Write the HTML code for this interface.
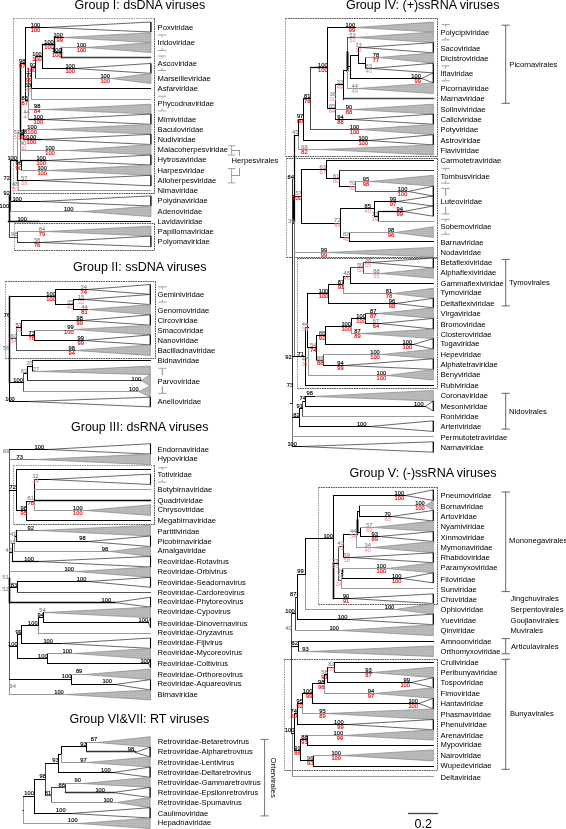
<!DOCTYPE html>
<html lang="en">
<head>
<meta charset="utf-8">
<title>Virus groups phylogeny</title>
<style>
html,body{margin:0;padding:0;background:#fff;}
body{width:566px;height:829px;overflow:hidden;}
svg{display:block;font-family:"Liberation Sans",sans-serif;}
svg text{white-space:pre;}
</style>
</head>
<body>
<svg width="566" height="829" viewBox="0 0 566 829">
<defs><pattern id="st" width="2" height="2" patternUnits="userSpaceOnUse"><rect width="2" height="2" fill="#b4b4b4"/><rect x="0" y="0" width="1" height="1" fill="#c4c4c4"/></pattern></defs>
<rect x="0" y="0" width="566" height="829" fill="#fff"/>
<g id="g1">
<text x="139.9" y="9.2" font-size="12.5" fill="#000" text-anchor="middle">Group I: dsDNA viruses</text>
<line x1="13.5" y1="18.5" x2="154.5" y2="18.5" stroke="#8e8e8e" stroke-width="1" stroke-dasharray="1.4 1.05"/>
<line x1="13.5" y1="193.5" x2="154.5" y2="193.5" stroke="#2a2a2a" stroke-width="0.8" stroke-dasharray="1.7 0.75"/>
<line x1="13.5" y1="18.5" x2="13.5" y2="193.5" stroke="#8e8e8e" stroke-width="1" stroke-dasharray="1.4 1.05"/>
<line x1="154.5" y1="18.5" x2="154.5" y2="193.5" stroke="#2a2a2a" stroke-width="0.8" stroke-dasharray="1.7 0.75"/>
<line x1="14.5" y1="223.5" x2="154.5" y2="223.5" stroke="#2a2a2a" stroke-width="0.8" stroke-dasharray="1.7 0.75"/>
<line x1="14.5" y1="250.5" x2="154.5" y2="250.5" stroke="#2a2a2a" stroke-width="0.8" stroke-dasharray="1.7 0.75"/>
<line x1="14.5" y1="223.5" x2="14.5" y2="250.5" stroke="#8e8e8e" stroke-width="1" stroke-dasharray="1.4 1.05"/>
<line x1="154.5" y1="223.5" x2="154.5" y2="250.5" stroke="#2a2a2a" stroke-width="0.8" stroke-dasharray="1.7 0.75"/>
<polygon points="46.7,27.5 150.9,22 150.9,32" fill="#fff" stroke="#000" stroke-width="0.6" stroke-linejoin="miter"/>
<line x1="150.9" y1="22" x2="150.9" y2="32" stroke="#000" stroke-width="1.1"/>
<polygon points="63.3,37.5 150.9,32.7 150.9,42.6" fill="url(#st)" stroke="#858585" stroke-width="0.7"/>
<polygon points="86.6,47.5 150.9,42.6 150.9,52.6" fill="url(#st)" stroke="#858585" stroke-width="0.7"/>
<polygon points="75,68.5 150.9,63.4 150.9,73.4" fill="#fff" stroke="#000" stroke-width="0.6" stroke-linejoin="miter"/>
<line x1="150.9" y1="63.4" x2="150.9" y2="73.4" stroke="#000" stroke-width="1.1"/>
<polygon points="111,78.5 150.9,73.4 150.9,83.5" fill="url(#st)" stroke="#858585" stroke-width="0.7"/>
<polygon points="45.3,109.5 150.9,104.2 150.9,114.1" fill="url(#st)" stroke="#858585" stroke-width="0.7"/>
<polygon points="44,119.5 150.9,114.1 150.9,124.3" fill="#fff" stroke="#000" stroke-width="0.6" stroke-linejoin="miter"/>
<line x1="150.9" y1="114.1" x2="150.9" y2="124.3" stroke="#000" stroke-width="1.1"/>
<polygon points="48,129.5 150.9,124.3 150.9,134.3" fill="url(#st)" stroke="#858585" stroke-width="0.7"/>
<polygon points="41.8,139.5 150.9,134.3 150.9,144.5" fill="#fff" stroke="#000" stroke-width="0.6" stroke-linejoin="miter"/>
<line x1="150.9" y1="134.3" x2="150.9" y2="144.5" stroke="#000" stroke-width="1.1"/>
<polygon points="68,150.5 150.9,144.5 150.9,155" fill="url(#st)" stroke="#858585" stroke-width="0.7"/>
<polygon points="46.6,160.5 150.9,155 150.9,165" fill="#fff" stroke="#000" stroke-width="0.6" stroke-linejoin="miter"/>
<line x1="150.9" y1="155" x2="150.9" y2="165" stroke="#000" stroke-width="1.1"/>
<polygon points="48,170.5 150.9,165 150.9,175.3" fill="url(#st)" stroke="#858585" stroke-width="0.7"/>
<polygon points="38,180.5 150.9,175.3 150.9,185.9" fill="#fff" stroke="#000" stroke-width="0.6" stroke-linejoin="miter"/>
<line x1="150.9" y1="175.3" x2="150.9" y2="185.9" stroke="#000" stroke-width="1.1"/>
<polygon points="39.6,201.5 150.9,195.9 150.9,206" fill="#fff" stroke="#000" stroke-width="0.6" stroke-linejoin="miter"/>
<line x1="150.9" y1="195.9" x2="150.9" y2="206" stroke="#000" stroke-width="1.1"/>
<polygon points="82.4,211.5 150.9,206 150.9,216.6" fill="url(#st)" stroke="#858585" stroke-width="0.7"/>
<polygon points="46.6,231.5 150.9,226.2 150.9,236.1" fill="url(#st)" stroke="#858585" stroke-width="0.7"/>
<polygon points="40.3,242.5 150.9,236.1 150.9,246.7" fill="#fff" stroke="#000" stroke-width="0.6" stroke-linejoin="miter"/>
<line x1="150.9" y1="236.1" x2="150.9" y2="246.7" stroke="#000" stroke-width="1.1"/>
<line x1="25.5" y1="27.5" x2="25.5" y2="100.5" stroke="#000" stroke-width="1" stroke-linecap="square"/>
<line x1="25.5" y1="27.5" x2="46.5" y2="27.5" stroke="#000" stroke-width="1" stroke-linecap="square"/>
<line x1="20.5" y1="63.5" x2="25.5" y2="63.5" stroke="#000" stroke-width="1" stroke-linecap="square"/>
<line x1="54.5" y1="37.5" x2="63.5" y2="37.5" stroke="#000" stroke-width="1" stroke-linecap="square"/>
<line x1="54.5" y1="37.5" x2="54.5" y2="52.5" stroke="#000" stroke-width="1.39" stroke-linecap="square"/>
<line x1="42.5" y1="44.5" x2="54.5" y2="44.5" stroke="#000" stroke-width="1.39" stroke-linecap="square"/>
<line x1="54.5" y1="52.5" x2="61.5" y2="52.5" stroke="#000" stroke-width="1.39" stroke-linecap="square"/>
<line x1="61.5" y1="47.5" x2="61.5" y2="57.5" stroke="#000" stroke-width="1.39" stroke-linecap="square"/>
<line x1="61.5" y1="47.5" x2="86.5" y2="47.5" stroke="#9a9a9a" stroke-width="1" stroke-linecap="square"/>
<line x1="61.5" y1="57.5" x2="150.5" y2="57.5" stroke="#3c3c3c" stroke-width="1.56" stroke-linecap="square"/>
<line x1="42.5" y1="44.5" x2="42.5" y2="68.5" stroke="#000" stroke-width="1" stroke-linecap="square"/>
<line x1="42.5" y1="68.5" x2="75.5" y2="68.5" stroke="#000" stroke-width="1" stroke-linecap="square"/>
<line x1="35.5" y1="56.5" x2="42.5" y2="56.5" stroke="#000" stroke-width="1" stroke-linecap="square"/>
<line x1="35.5" y1="56.5" x2="35.5" y2="78.5" stroke="#333" stroke-width="1" stroke-linecap="square"/>
<line x1="35.5" y1="78.5" x2="111.5" y2="78.5" stroke="#9a9a9a" stroke-width="1" stroke-linecap="square"/>
<line x1="31.5" y1="67.5" x2="35.5" y2="67.5" stroke="#000" stroke-width="1" stroke-linecap="square"/>
<line x1="31.5" y1="67.5" x2="31.5" y2="88.5" stroke="#000" stroke-width="1" stroke-linecap="square"/>
<line x1="31.5" y1="88.5" x2="150.5" y2="88.5" stroke="#000" stroke-width="1.23" stroke-linecap="square"/>
<line x1="31.5" y1="88.5" x2="31.5" y2="99.5" stroke="#9a9a9a" stroke-width="1" stroke-linecap="square"/>
<line x1="31.5" y1="99.5" x2="150.5" y2="99.5" stroke="#9a9a9a" stroke-width="1" stroke-linecap="square"/>
<line x1="28.5" y1="88.5" x2="31.5" y2="88.5" stroke="#555" stroke-width="1" stroke-linecap="square"/>
<line x1="28.5" y1="68.5" x2="28.5" y2="100.5" stroke="#555" stroke-width="1.23" stroke-linecap="square"/>
<line x1="25.5" y1="100.5" x2="28.5" y2="100.5" stroke="#000" stroke-width="1" stroke-linecap="square"/>
<line x1="28.5" y1="96.5" x2="28.5" y2="119.5" stroke="#9a9a9a" stroke-width="1" stroke-linecap="square"/>
<line x1="28.5" y1="109.5" x2="45.5" y2="109.5" stroke="#9a9a9a" stroke-width="1" stroke-linecap="square"/>
<line x1="29.5" y1="119.5" x2="44.5" y2="119.5" stroke="#000" stroke-width="1.23" stroke-linecap="square"/>
<line x1="20.5" y1="63.5" x2="20.5" y2="139.5" stroke="#000" stroke-width="1.48" stroke-linecap="square"/>
<line x1="20.5" y1="139.5" x2="20.5" y2="160.5" stroke="#666" stroke-width="1" stroke-linecap="square"/>
<line x1="17.5" y1="132.5" x2="17.5" y2="160.5" stroke="#9a9a9a" stroke-width="1" stroke-linecap="square"/>
<line x1="17.5" y1="132.5" x2="20.5" y2="132.5" stroke="#9a9a9a" stroke-width="1" stroke-linecap="square"/>
<line x1="23.5" y1="129.5" x2="48.5" y2="129.5" stroke="#9a9a9a" stroke-width="1" stroke-linecap="square"/>
<line x1="23.5" y1="139.5" x2="41.5" y2="139.5" stroke="#000" stroke-width="1.23" stroke-linecap="square"/>
<line x1="23.5" y1="129.5" x2="23.5" y2="139.5" stroke="#000" stroke-width="1" stroke-linecap="square"/>
<line x1="20.5" y1="134.5" x2="23.5" y2="134.5" stroke="#000" stroke-width="1" stroke-linecap="square"/>
<line x1="20.5" y1="150.5" x2="68.5" y2="150.5" stroke="#9a9a9a" stroke-width="1" stroke-linecap="square"/>
<line x1="20.5" y1="160.5" x2="46.5" y2="160.5" stroke="#000" stroke-width="1.23" stroke-linecap="square"/>
<line x1="21.5" y1="160.5" x2="21.5" y2="170.5" stroke="#000" stroke-width="1" stroke-linecap="square"/>
<line x1="21.5" y1="170.5" x2="48.5" y2="170.5" stroke="#9a9a9a" stroke-width="1" stroke-linecap="square"/>
<line x1="10.5" y1="160.5" x2="17.5" y2="160.5" stroke="#000" stroke-width="1" stroke-linecap="square"/>
<line x1="17.5" y1="160.5" x2="17.5" y2="180.5" stroke="#000" stroke-width="1.23" stroke-linecap="square"/>
<line x1="18.5" y1="180.5" x2="18.5" y2="190.5" stroke="#9a9a9a" stroke-width="1" stroke-linecap="square"/>
<line x1="18.5" y1="180.5" x2="38.5" y2="180.5" stroke="#000" stroke-width="1" stroke-linecap="square"/>
<line x1="18.5" y1="190.5" x2="150.5" y2="190.5" stroke="#9a9a9a" stroke-width="1" stroke-linecap="square"/>
<line x1="10.5" y1="160.5" x2="10.5" y2="201.5" stroke="#000" stroke-width="1.23" stroke-linecap="square"/>
<line x1="9.5" y1="195.5" x2="9.5" y2="221.5" stroke="#000" stroke-width="1.56" stroke-linecap="square"/>
<line x1="9.5" y1="221.5" x2="9.5" y2="237.5" stroke="#444" stroke-width="1" stroke-linecap="square"/>
<line x1="10.5" y1="201.5" x2="39.5" y2="201.5" stroke="#000" stroke-width="1" stroke-linecap="square"/>
<line x1="10.5" y1="201.5" x2="10.5" y2="211.5" stroke="#444" stroke-width="1" stroke-linecap="square"/>
<line x1="10.5" y1="211.5" x2="82.5" y2="211.5" stroke="#9a9a9a" stroke-width="1" stroke-linecap="square"/>
<line x1="8.5" y1="221.5" x2="38.5" y2="221.5" stroke="#000" stroke-width="1.39" stroke-linecap="square"/>
<line x1="38.5" y1="221.5" x2="150.5" y2="221.5" stroke="#000" stroke-width="1" stroke-linecap="square"/>
<line x1="9.5" y1="237.5" x2="17.5" y2="237.5" stroke="#444" stroke-width="1" stroke-linecap="square"/>
<line x1="17.5" y1="231.5" x2="17.5" y2="242.5" stroke="#444" stroke-width="1" stroke-linecap="square"/>
<line x1="17.5" y1="231.5" x2="46.5" y2="231.5" stroke="#9a9a9a" stroke-width="1" stroke-linecap="square"/>
<line x1="17.5" y1="242.5" x2="40.5" y2="242.5" stroke="#333" stroke-width="1" stroke-linecap="square"/>
<text x="40.3" y="27.2" font-size="6.15" fill="#000" text-anchor="end" textLength="9.59" lengthAdjust="spacingAndGlyphs" stroke="#000" stroke-width="0.14">100</text>
<text x="40.3" y="32.25" font-size="6.15" fill="#f00000" text-anchor="end" textLength="9.59" lengthAdjust="spacingAndGlyphs" stroke="#f00000" stroke-width="0.14">100</text>
<text x="63" y="37.2" font-size="6.15" fill="#000" text-anchor="end" textLength="9.59" lengthAdjust="spacingAndGlyphs" stroke="#000" stroke-width="0.14">100</text>
<text x="63" y="42.25" font-size="6.15" fill="#f00000" text-anchor="end" textLength="6.39" lengthAdjust="spacingAndGlyphs" stroke="#f00000" stroke-width="0.14">99</text>
<text x="53.8" y="44.2" font-size="6.15" fill="#000" text-anchor="end" textLength="9.59" lengthAdjust="spacingAndGlyphs" stroke="#000" stroke-width="0.14">100</text>
<text x="53.8" y="49.25" font-size="6.15" fill="#f00000" text-anchor="end" textLength="9.59" lengthAdjust="spacingAndGlyphs" stroke="#f00000" stroke-width="0.14">100</text>
<text x="61.6" y="52.2" font-size="6.15" fill="#000" text-anchor="end" textLength="9.59" lengthAdjust="spacingAndGlyphs" stroke="#000" stroke-width="0.14">100</text>
<text x="61.6" y="57.25" font-size="6.15" fill="#f00000" text-anchor="end" textLength="9.59" lengthAdjust="spacingAndGlyphs" stroke="#f00000" stroke-width="0.14">100</text>
<text x="86.3" y="47.2" font-size="6.15" fill="#000" text-anchor="end" textLength="9.59" lengthAdjust="spacingAndGlyphs" stroke="#000" stroke-width="0.14">100</text>
<text x="86.3" y="52.25" font-size="6.15" fill="#f00000" text-anchor="end" textLength="9.59" lengthAdjust="spacingAndGlyphs" stroke="#f00000" stroke-width="0.14">100</text>
<text x="41.8" y="56.2" font-size="6.15" fill="#000" text-anchor="end" textLength="9.59" lengthAdjust="spacingAndGlyphs" stroke="#000" stroke-width="0.14">100</text>
<text x="41.8" y="61.25" font-size="6.15" fill="#f00000" text-anchor="end" textLength="9.59" lengthAdjust="spacingAndGlyphs" stroke="#f00000" stroke-width="0.14">100</text>
<text x="75" y="68.2" font-size="6.15" fill="#000" text-anchor="end" textLength="9.59" lengthAdjust="spacingAndGlyphs" stroke="#000" stroke-width="0.14">100</text>
<text x="75" y="73.25" font-size="6.15" fill="#f00000" text-anchor="end" textLength="9.59" lengthAdjust="spacingAndGlyphs" stroke="#f00000" stroke-width="0.14">100</text>
<text x="25.5" y="63.2" font-size="6.15" fill="#000" text-anchor="end" textLength="6.39" lengthAdjust="spacingAndGlyphs" stroke="#000" stroke-width="0.14">98</text>
<text x="25.5" y="68.25" font-size="6.15" fill="#f00000" text-anchor="end" textLength="6.39" lengthAdjust="spacingAndGlyphs" stroke="#f00000" stroke-width="0.14">97</text>
<text x="36.2" y="67.2" font-size="6.15" fill="#000" text-anchor="end" textLength="6.39" lengthAdjust="spacingAndGlyphs" stroke="#000" stroke-width="0.14">92</text>
<text x="36.2" y="72.25" font-size="6.15" fill="#f00000" text-anchor="end" textLength="9.59" lengthAdjust="spacingAndGlyphs" stroke="#f00000" stroke-width="0.14">100</text>
<text x="32.3" y="77.2" font-size="6.15" fill="#000" text-anchor="end" textLength="6.39" lengthAdjust="spacingAndGlyphs" stroke="#000" stroke-width="0.14">77</text>
<text x="32.3" y="82.25" font-size="6.15" fill="#f00000" text-anchor="end" textLength="6.39" lengthAdjust="spacingAndGlyphs" stroke="#f00000" stroke-width="0.14">99</text>
<text x="31.2" y="87.2" font-size="6.15" fill="#000" text-anchor="end" textLength="6.39" lengthAdjust="spacingAndGlyphs" stroke="#000" stroke-width="0.14">53</text>
<text x="31.2" y="92.25" font-size="6.15" fill="#f59a9a" text-anchor="end" textLength="6.39" lengthAdjust="spacingAndGlyphs" stroke="#f59a9a" stroke-width="0.14">32</text>
<text x="110" y="78.2" font-size="6.15" fill="#000" text-anchor="end" textLength="9.59" lengthAdjust="spacingAndGlyphs" stroke="#000" stroke-width="0.14">100</text>
<text x="110" y="83.25" font-size="6.15" fill="#f00000" text-anchor="end" textLength="9.59" lengthAdjust="spacingAndGlyphs" stroke="#f00000" stroke-width="0.14">100</text>
<text x="28" y="100.2" font-size="6.15" fill="#000" text-anchor="end" textLength="6.39" lengthAdjust="spacingAndGlyphs" stroke="#000" stroke-width="0.14">88</text>
<text x="28" y="105.25" font-size="6.15" fill="#f00000" text-anchor="end" textLength="6.39" lengthAdjust="spacingAndGlyphs" stroke="#f00000" stroke-width="0.14">87</text>
<text x="40.4" y="108.2" font-size="6.15" fill="#000" text-anchor="end" textLength="6.39" lengthAdjust="spacingAndGlyphs" stroke="#000" stroke-width="0.14">98</text>
<text x="40.4" y="113.25" font-size="6.15" fill="#f00000" text-anchor="end" textLength="6.39" lengthAdjust="spacingAndGlyphs" stroke="#f00000" stroke-width="0.14">84</text>
<text x="29.8" y="114.2" font-size="6.15" fill="#8c8c8c" text-anchor="end" textLength="6.39" lengthAdjust="spacingAndGlyphs" stroke="#8c8c8c" stroke-width="0.14">44</text>
<text x="29.8" y="119.25" font-size="6.15" fill="#f59a9a" text-anchor="end" textLength="6.39" lengthAdjust="spacingAndGlyphs" stroke="#f59a9a" stroke-width="0.14">41</text>
<text x="43.2" y="119.2" font-size="6.15" fill="#000" text-anchor="end" textLength="9.59" lengthAdjust="spacingAndGlyphs" stroke="#000" stroke-width="0.14">100</text>
<text x="43.2" y="124.25" font-size="6.15" fill="#f00000" text-anchor="end" textLength="9.59" lengthAdjust="spacingAndGlyphs" stroke="#f00000" stroke-width="0.14">100</text>
<text x="36.9" y="129.2" font-size="6.15" fill="#000" text-anchor="end" textLength="9.59" lengthAdjust="spacingAndGlyphs" stroke="#000" stroke-width="0.14">100</text>
<text x="36.9" y="134.25" font-size="6.15" fill="#f00000" text-anchor="end" textLength="9.59" lengthAdjust="spacingAndGlyphs" stroke="#f00000" stroke-width="0.14">100</text>
<text x="36.2" y="139.2" font-size="6.15" fill="#000" text-anchor="end" textLength="9.59" lengthAdjust="spacingAndGlyphs" stroke="#000" stroke-width="0.14">100</text>
<text x="36.2" y="144.25" font-size="6.15" fill="#f00000" text-anchor="end" textLength="9.59" lengthAdjust="spacingAndGlyphs" stroke="#f00000" stroke-width="0.14">100</text>
<text x="20" y="134.2" font-size="6.15" fill="#8c8c8c" text-anchor="end" textLength="6.39" lengthAdjust="spacingAndGlyphs" stroke="#8c8c8c" stroke-width="0.14">51</text>
<text x="20" y="139.25" font-size="6.15" fill="#f59a9a" text-anchor="end" textLength="6.39" lengthAdjust="spacingAndGlyphs" stroke="#f59a9a" stroke-width="0.14">58</text>
<text x="27" y="134.2" font-size="6.15" fill="#000" text-anchor="end" textLength="6.39" lengthAdjust="spacingAndGlyphs" stroke="#000" stroke-width="0.14">98</text>
<text x="27" y="139.25" font-size="6.15" fill="#f00000" text-anchor="end" textLength="6.39" lengthAdjust="spacingAndGlyphs" stroke="#f00000" stroke-width="0.14">99</text>
<text x="26.3" y="145.2" font-size="6.15" fill="#8c8c8c" text-anchor="end" textLength="6.39" lengthAdjust="spacingAndGlyphs" stroke="#8c8c8c" stroke-width="0.14">40</text>
<text x="26.3" y="150.25" font-size="6.15" fill="#f59a9a" text-anchor="end" textLength="6.39" lengthAdjust="spacingAndGlyphs" stroke="#f59a9a" stroke-width="0.14">50</text>
<text x="54.8" y="150.2" font-size="6.15" fill="#000" text-anchor="end" textLength="9.59" lengthAdjust="spacingAndGlyphs" stroke="#000" stroke-width="0.14">100</text>
<text x="54.8" y="155.25" font-size="6.15" fill="#f00000" text-anchor="end" textLength="9.59" lengthAdjust="spacingAndGlyphs" stroke="#f00000" stroke-width="0.14">100</text>
<text x="46" y="160.2" font-size="6.15" fill="#000" text-anchor="end" textLength="9.59" lengthAdjust="spacingAndGlyphs" stroke="#000" stroke-width="0.14">100</text>
<text x="46" y="165.25" font-size="6.15" fill="#f00000" text-anchor="end" textLength="9.59" lengthAdjust="spacingAndGlyphs" stroke="#f00000" stroke-width="0.14">100</text>
<text x="47" y="170.2" font-size="6.15" fill="#000" text-anchor="end" textLength="9.59" lengthAdjust="spacingAndGlyphs" stroke="#000" stroke-width="0.14">100</text>
<text x="47" y="175.25" font-size="6.15" fill="#f00000" text-anchor="end" textLength="9.59" lengthAdjust="spacingAndGlyphs" stroke="#f00000" stroke-width="0.14">100</text>
<text x="22" y="165.2" font-size="6.15" fill="#000" text-anchor="end" textLength="6.39" lengthAdjust="spacingAndGlyphs" stroke="#000" stroke-width="0.14">96</text>
<text x="22" y="170.25" font-size="6.15" fill="#f00000" text-anchor="end" textLength="6.39" lengthAdjust="spacingAndGlyphs" stroke="#f00000" stroke-width="0.14">90</text>
<text x="17" y="160.2" font-size="6.15" fill="#000" text-anchor="end" textLength="9.59" lengthAdjust="spacingAndGlyphs" stroke="#000" stroke-width="0.14">100</text>
<text x="27.5" y="180.2" font-size="6.15" fill="#8c8c8c" text-anchor="end" textLength="6.39" lengthAdjust="spacingAndGlyphs" stroke="#8c8c8c" stroke-width="0.14">57</text>
<text x="27.5" y="185.25" font-size="6.15" fill="#f59a9a" text-anchor="end" textLength="6.39" lengthAdjust="spacingAndGlyphs" stroke="#f59a9a" stroke-width="0.14">58</text>
<text x="18.4" y="186.2" font-size="6.15" fill="#8c8c8c" text-anchor="end" textLength="6.39" lengthAdjust="spacingAndGlyphs" stroke="#8c8c8c" stroke-width="0.14">48</text>
<text x="18.4" y="191.25" font-size="6.15" fill="#f59a9a" text-anchor="end" textLength="6.39" lengthAdjust="spacingAndGlyphs" stroke="#f59a9a" stroke-width="0.14">50</text>
<text x="10" y="180.2" font-size="6.15" fill="#000" text-anchor="end" textLength="6.39" lengthAdjust="spacingAndGlyphs" stroke="#000" stroke-width="0.14">72</text>
<text x="10" y="195.2" font-size="6.15" fill="#000" text-anchor="end" textLength="6.39" lengthAdjust="spacingAndGlyphs" stroke="#000" stroke-width="0.14">92</text>
<text x="9.2" y="208.2" font-size="6.15" fill="#000" text-anchor="end" textLength="9.59" lengthAdjust="spacingAndGlyphs" stroke="#000" stroke-width="0.14">100</text>
<text x="22" y="201.2" font-size="6.15" fill="#000" text-anchor="end" textLength="9.59" lengthAdjust="spacingAndGlyphs" stroke="#000" stroke-width="0.14">100</text>
<text x="73.5" y="211.2" font-size="6.15" fill="#000" text-anchor="end" textLength="9.59" lengthAdjust="spacingAndGlyphs" stroke="#000" stroke-width="0.14">100</text>
<text x="27" y="221.2" font-size="6.15" fill="#000" text-anchor="end" textLength="9.59" lengthAdjust="spacingAndGlyphs" stroke="#000" stroke-width="0.14">100</text>
<text x="45.2" y="231.2" font-size="6.15" fill="#8c8c8c" text-anchor="end" textLength="6.39" lengthAdjust="spacingAndGlyphs" stroke="#8c8c8c" stroke-width="0.14">84</text>
<text x="45.2" y="236.25" font-size="6.15" fill="#f00000" text-anchor="end" textLength="6.39" lengthAdjust="spacingAndGlyphs" stroke="#f00000" stroke-width="0.14">79</text>
<text x="40.3" y="242.2" font-size="6.15" fill="#8c8c8c" text-anchor="end" textLength="6.39" lengthAdjust="spacingAndGlyphs" stroke="#8c8c8c" stroke-width="0.14">58</text>
<text x="40.3" y="247.25" font-size="6.15" fill="#f00000" text-anchor="end" textLength="6.39" lengthAdjust="spacingAndGlyphs" stroke="#f00000" stroke-width="0.14">76</text>
<text x="17.7" y="236.2" font-size="6.15" fill="#8c8c8c" text-anchor="end" textLength="6.39" lengthAdjust="spacingAndGlyphs" stroke="#8c8c8c" stroke-width="0.14">98</text>
<text x="157.6" y="29.6" font-size="7.65" fill="#000">Poxviridae</text>
<text x="157.6" y="45.2" font-size="7.65" fill="#000">Iridoviridae</text>
<text x="157.6" y="66.3" font-size="7.65" fill="#000">Ascoviridae</text>
<text x="157.6" y="81.1" font-size="7.65" fill="#000">Marseilleviridae</text>
<text x="157.6" y="91.2" font-size="7.65" fill="#000">Asfarviridae</text>
<text x="157.6" y="105.8" font-size="7.65" fill="#000">Phycodnaviridae</text>
<text x="157.6" y="122.1" font-size="7.65" fill="#000">Mimiviridae</text>
<text x="157.6" y="131.8" font-size="7.65" fill="#000">Baculoviridae</text>
<text x="157.6" y="142.2" font-size="7.65" fill="#000">Nudiviridae</text>
<text x="157.6" y="152.2" font-size="7.65" fill="#000">Malacoherpesviridae</text>
<text x="157.6" y="162.3" font-size="7.65" fill="#000">Hytrosaviridae</text>
<text x="157.6" y="172.6" font-size="7.65" fill="#000">Harpesviridae</text>
<text x="157.6" y="182.9" font-size="7.65" fill="#000">Alloherpesviridae</text>
<text x="157.6" y="193.3" font-size="7.65" fill="#000">Nimaviridae</text>
<text x="157.6" y="203.1" font-size="7.65" fill="#000">Polydnaviridae</text>
<text x="157.6" y="213.7" font-size="7.65" fill="#000">Adenoviridae</text>
<text x="157.6" y="224" font-size="7.65" fill="#000">Lavidaviridae</text>
<text x="157.6" y="233.7" font-size="7.65" fill="#000">Papillomaviridae</text>
<text x="157.6" y="243.9" font-size="7.65" fill="#000">Polyomaviridae</text>
<line x1="157.8" y1="35" x2="166.2" y2="35" stroke="#a4a4a4" stroke-width="1"/>
<line x1="162" y1="35" x2="162" y2="37.6" stroke="#a4a4a4" stroke-width="0.9"/>
<line x1="157.8" y1="50.5" x2="166.2" y2="50.5" stroke="#a4a4a4" stroke-width="1"/>
<line x1="162" y1="47.9" x2="162" y2="50.5" stroke="#a4a4a4" stroke-width="0.9"/>
<line x1="157.8" y1="56" x2="166.2" y2="56" stroke="#a4a4a4" stroke-width="1"/>
<line x1="162" y1="56" x2="162" y2="58.6" stroke="#a4a4a4" stroke-width="0.9"/>
<line x1="157.8" y1="70.5" x2="166.2" y2="70.5" stroke="#a4a4a4" stroke-width="1"/>
<line x1="162" y1="67.9" x2="162" y2="70.5" stroke="#a4a4a4" stroke-width="0.9"/>
<line x1="157.8" y1="96.2" x2="166.2" y2="96.2" stroke="#a4a4a4" stroke-width="1"/>
<line x1="162" y1="96.2" x2="162" y2="98.8" stroke="#a4a4a4" stroke-width="0.9"/>
<line x1="157.8" y1="110.9" x2="166.2" y2="110.9" stroke="#a4a4a4" stroke-width="1"/>
<line x1="162" y1="108.3" x2="162" y2="110.9" stroke="#a4a4a4" stroke-width="0.9"/>
<line x1="227.8" y1="145.8" x2="235.4" y2="145.8" stroke="#999" stroke-width="0.9"/>
<line x1="227.8" y1="155" x2="235.4" y2="155" stroke="#999" stroke-width="0.9"/>
<line x1="231.6" y1="145.8" x2="231.6" y2="155" stroke="#999" stroke-width="0.9"/>
<line x1="227.8" y1="168.5" x2="235.4" y2="168.5" stroke="#999" stroke-width="0.9"/>
<line x1="227.8" y1="182.9" x2="235.4" y2="182.9" stroke="#999" stroke-width="0.9"/>
<line x1="231.6" y1="168.5" x2="231.6" y2="182.9" stroke="#999" stroke-width="0.9"/>
<line x1="231.5" y1="150.5" x2="239.5" y2="150.5" stroke="#999" stroke-width="1" stroke-linecap="square"/>
<line x1="239.5" y1="150.5" x2="239.5" y2="155.5" stroke="#999" stroke-width="1" stroke-linecap="square"/>
<line x1="231.5" y1="175.5" x2="239.5" y2="175.5" stroke="#999" stroke-width="1" stroke-linecap="square"/>
<line x1="239.5" y1="168.5" x2="239.5" y2="175.5" stroke="#999" stroke-width="1" stroke-linecap="square"/>
<text x="231.6" y="163.3" font-size="7.65" fill="#000">Herpesvirales</text>
</g>
<g id="g2">
<text x="139.8" y="270.9" font-size="12.5" fill="#000" text-anchor="middle">Group II: ssDNA viruses</text>
<line x1="5.5" y1="281.5" x2="155.5" y2="281.5" stroke="#2a2a2a" stroke-width="0.8" stroke-dasharray="1.7 0.75"/>
<line x1="5.5" y1="358.5" x2="155.5" y2="358.5" stroke="#2a2a2a" stroke-width="0.8" stroke-dasharray="1.7 0.75"/>
<line x1="5.5" y1="281.5" x2="5.5" y2="358.5" stroke="#8e8e8e" stroke-width="1" stroke-dasharray="1.4 1.05"/>
<line x1="155.5" y1="281.5" x2="155.5" y2="358.5" stroke="#2a2a2a" stroke-width="0.8" stroke-dasharray="1.7 0.75"/>
<polygon points="87,289.5 150.3,284.5 150.3,294.4" fill="#fff" stroke="#000" stroke-width="0.6" stroke-linejoin="miter"/>
<line x1="150.3" y1="284.5" x2="150.3" y2="294.4" stroke="#000" stroke-width="1.1"/>
<polygon points="84.3,299.5 150.3,294.4 150.3,304.6" fill="#fff" stroke="#000" stroke-width="0.6" stroke-linejoin="miter"/>
<line x1="150.3" y1="294.4" x2="150.3" y2="304.6" stroke="#000" stroke-width="1.1"/>
<polygon points="87.7,309.5 150.3,304.6 150.3,314.8" fill="url(#st)" stroke="#858585" stroke-width="0.7"/>
<polygon points="82.9,320.5 150.3,314.8 150.3,325.2" fill="#fff" stroke="#000" stroke-width="0.6" stroke-linejoin="miter"/>
<line x1="150.3" y1="314.8" x2="150.3" y2="325.2" stroke="#000" stroke-width="1.1"/>
<polygon points="73.7,329.5 150.3,325.2 150.3,334.9" fill="url(#st)" stroke="#858585" stroke-width="0.7"/>
<polygon points="83.9,340.5 150.3,334.9 150.3,344.9" fill="#fff" stroke="#000" stroke-width="0.6" stroke-linejoin="miter"/>
<line x1="150.3" y1="334.9" x2="150.3" y2="344.9" stroke="#000" stroke-width="1.1"/>
<polygon points="75,350.5 150.3,344.9 150.3,355.5" fill="url(#st)" stroke="#858585" stroke-width="0.7"/>
<polygon points="39.2,371.5 150.3,366.1 150.3,374.7" fill="url(#st)" stroke="#858585" stroke-width="0.7"/>
<polygon points="141.1,380.5 150.3,374.7 150.3,385.9" fill="url(#st)" stroke="#858585" stroke-width="0.7"/>
<polygon points="138.7,391.5 150.3,385.9 150.3,397" fill="url(#st)" stroke="#858585" stroke-width="0.7"/>
<polygon points="27.6,401.5 150.3,397.2 150.3,406.9" fill="#fff" stroke="#000" stroke-width="0.6" stroke-linejoin="miter"/>
<line x1="150.3" y1="397.2" x2="150.3" y2="406.9" stroke="#000" stroke-width="1.1"/>
<line x1="9.5" y1="296.5" x2="9.5" y2="382.5" stroke="#000" stroke-width="1.48" stroke-linecap="square"/>
<line x1="9.5" y1="382.5" x2="9.5" y2="401.5" stroke="#000" stroke-width="1" stroke-linecap="square"/>
<line x1="9.5" y1="296.5" x2="55.5" y2="296.5" stroke="#000" stroke-width="1" stroke-linecap="square"/>
<line x1="55.5" y1="289.5" x2="55.5" y2="304.5" stroke="#000" stroke-width="1" stroke-linecap="square"/>
<line x1="55.5" y1="289.5" x2="87.5" y2="289.5" stroke="#000" stroke-width="1" stroke-linecap="square"/>
<line x1="55.5" y1="304.5" x2="73.5" y2="304.5" stroke="#000" stroke-width="1" stroke-linecap="square"/>
<line x1="73.5" y1="299.5" x2="73.5" y2="309.5" stroke="#000" stroke-width="1" stroke-linecap="square"/>
<line x1="73.5" y1="299.5" x2="84.5" y2="299.5" stroke="#000" stroke-width="1" stroke-linecap="square"/>
<line x1="73.5" y1="309.5" x2="87.5" y2="309.5" stroke="#000" stroke-width="1" stroke-linecap="square"/>
<line x1="9.5" y1="338.5" x2="16.5" y2="338.5" stroke="#555" stroke-width="1" stroke-linecap="square"/>
<line x1="16.5" y1="327.5" x2="16.5" y2="350.5" stroke="#555" stroke-width="1" stroke-linecap="square"/>
<line x1="16.5" y1="350.5" x2="75.5" y2="350.5" stroke="#555" stroke-width="1" stroke-linecap="square"/>
<line x1="16.5" y1="327.5" x2="21.5" y2="327.5" stroke="#000" stroke-width="1" stroke-linecap="square"/>
<line x1="21.5" y1="320.5" x2="21.5" y2="335.5" stroke="#000" stroke-width="1" stroke-linecap="square"/>
<line x1="21.5" y1="320.5" x2="82.5" y2="320.5" stroke="#000" stroke-width="1" stroke-linecap="square"/>
<line x1="21.5" y1="335.5" x2="34.5" y2="335.5" stroke="#000" stroke-width="1" stroke-linecap="square"/>
<line x1="34.5" y1="330.5" x2="34.5" y2="340.5" stroke="#000" stroke-width="1" stroke-linecap="square"/>
<line x1="34.5" y1="330.5" x2="73.5" y2="330.5" stroke="#9a9a9a" stroke-width="1" stroke-linecap="square"/>
<line x1="34.5" y1="340.5" x2="83.5" y2="340.5" stroke="#000" stroke-width="1" stroke-linecap="square"/>
<line x1="32.5" y1="360.5" x2="150.5" y2="360.5" stroke="#000" stroke-width="1" stroke-linecap="square"/>
<line x1="32.5" y1="360.5" x2="32.5" y2="371.5" stroke="#000" stroke-width="1" stroke-linecap="square"/>
<line x1="32.5" y1="371.5" x2="39.5" y2="371.5" stroke="#9a9a9a" stroke-width="1" stroke-linecap="square"/>
<line x1="27.5" y1="366.5" x2="32.5" y2="366.5" stroke="#000" stroke-width="1" stroke-linecap="square"/>
<line x1="27.5" y1="366.5" x2="27.5" y2="380.5" stroke="#000" stroke-width="1" stroke-linecap="square"/>
<line x1="27.5" y1="380.5" x2="141.5" y2="380.5" stroke="#444" stroke-width="1" stroke-linecap="square"/>
<line x1="23.5" y1="373.5" x2="27.5" y2="373.5" stroke="#000" stroke-width="1" stroke-linecap="square"/>
<line x1="23.5" y1="373.5" x2="23.5" y2="391.5" stroke="#555" stroke-width="1" stroke-linecap="square"/>
<line x1="23.5" y1="391.5" x2="138.5" y2="391.5" stroke="#9a9a9a" stroke-width="1" stroke-linecap="square"/>
<line x1="9.5" y1="382.5" x2="23.5" y2="382.5" stroke="#000" stroke-width="1" stroke-linecap="square"/>
<line x1="9.5" y1="401.5" x2="27.5" y2="401.5" stroke="#000" stroke-width="1" stroke-linecap="square"/>
<text x="55.8" y="296.2" font-size="6.15" fill="#000" text-anchor="end" textLength="9.59" lengthAdjust="spacingAndGlyphs" stroke="#000" stroke-width="0.14">100</text>
<text x="55.8" y="301.25" font-size="6.15" fill="#f00000" text-anchor="end" textLength="9.59" lengthAdjust="spacingAndGlyphs" stroke="#f00000" stroke-width="0.14">100</text>
<text x="87" y="289.2" font-size="6.15" fill="#8c8c8c" text-anchor="end" textLength="6.39" lengthAdjust="spacingAndGlyphs" stroke="#8c8c8c" stroke-width="0.14">34</text>
<text x="87" y="294.25" font-size="6.15" fill="#f00000" text-anchor="end" textLength="6.39" lengthAdjust="spacingAndGlyphs" stroke="#f00000" stroke-width="0.14">74</text>
<text x="73.5" y="304.2" font-size="6.15" fill="#8c8c8c" text-anchor="end" textLength="6.39" lengthAdjust="spacingAndGlyphs" stroke="#8c8c8c" stroke-width="0.14">35</text>
<text x="73.5" y="309.25" font-size="6.15" fill="#f59a9a" text-anchor="end" textLength="6.39" lengthAdjust="spacingAndGlyphs" stroke="#f59a9a" stroke-width="0.14">41</text>
<text x="84.3" y="299.2" font-size="6.15" fill="#8c8c8c" text-anchor="end" textLength="6.39" lengthAdjust="spacingAndGlyphs" stroke="#8c8c8c" stroke-width="0.14">15</text>
<text x="84.3" y="304.25" font-size="6.15" fill="#f59a9a" text-anchor="end" textLength="6.39" lengthAdjust="spacingAndGlyphs" stroke="#f59a9a" stroke-width="0.14">22</text>
<text x="87.7" y="309.2" font-size="6.15" fill="#8c8c8c" text-anchor="end" textLength="6.39" lengthAdjust="spacingAndGlyphs" stroke="#8c8c8c" stroke-width="0.14">44</text>
<text x="87.7" y="314.25" font-size="6.15" fill="#f00000" text-anchor="end" textLength="6.39" lengthAdjust="spacingAndGlyphs" stroke="#f00000" stroke-width="0.14">81</text>
<text x="82.9" y="320.2" font-size="6.15" fill="#000" text-anchor="end" textLength="6.39" lengthAdjust="spacingAndGlyphs" stroke="#000" stroke-width="0.14">98</text>
<text x="82.9" y="325.25" font-size="6.15" fill="#f00000" text-anchor="end" textLength="6.39" lengthAdjust="spacingAndGlyphs" stroke="#f00000" stroke-width="0.14">99</text>
<text x="73.7" y="329.2" font-size="6.15" fill="#000" text-anchor="end" textLength="6.39" lengthAdjust="spacingAndGlyphs" stroke="#000" stroke-width="0.14">99</text>
<text x="73.7" y="334.25" font-size="6.15" fill="#f00000" text-anchor="end" textLength="9.59" lengthAdjust="spacingAndGlyphs" stroke="#f00000" stroke-width="0.14">100</text>
<text x="83.9" y="340.2" font-size="6.15" fill="#000" text-anchor="end" textLength="6.39" lengthAdjust="spacingAndGlyphs" stroke="#000" stroke-width="0.14">99</text>
<text x="83.9" y="345.25" font-size="6.15" fill="#f00000" text-anchor="end" textLength="6.39" lengthAdjust="spacingAndGlyphs" stroke="#f00000" stroke-width="0.14">99</text>
<text x="75" y="350.2" font-size="6.15" fill="#000" text-anchor="end" textLength="6.39" lengthAdjust="spacingAndGlyphs" stroke="#000" stroke-width="0.14">98</text>
<text x="75" y="355.25" font-size="6.15" fill="#f00000" text-anchor="end" textLength="6.39" lengthAdjust="spacingAndGlyphs" stroke="#f00000" stroke-width="0.14">94</text>
<text x="10.2" y="317.2" font-size="6.15" fill="#000" text-anchor="end" textLength="6.39" lengthAdjust="spacingAndGlyphs" stroke="#000" stroke-width="0.14">76</text>
<text x="21.9" y="327.2" font-size="6.15" fill="#555" text-anchor="end" textLength="6.39" lengthAdjust="spacingAndGlyphs" stroke="#555" stroke-width="0.14">57</text>
<text x="21.9" y="332.25" font-size="6.15" fill="#f59a9a" text-anchor="end" textLength="6.39" lengthAdjust="spacingAndGlyphs" stroke="#f59a9a" stroke-width="0.14">51</text>
<text x="35" y="335.2" font-size="6.15" fill="#000" text-anchor="end" textLength="6.39" lengthAdjust="spacingAndGlyphs" stroke="#000" stroke-width="0.14">73</text>
<text x="35" y="340.25" font-size="6.15" fill="#f00000" text-anchor="end" textLength="6.39" lengthAdjust="spacingAndGlyphs" stroke="#f00000" stroke-width="0.14">78</text>
<text x="16.7" y="338.2" font-size="6.15" fill="#8c8c8c" text-anchor="end" textLength="6.39" lengthAdjust="spacingAndGlyphs" stroke="#8c8c8c" stroke-width="0.14">60</text>
<text x="16.7" y="343.25" font-size="6.15" fill="#f59a9a" text-anchor="end" textLength="6.39" lengthAdjust="spacingAndGlyphs" stroke="#f59a9a" stroke-width="0.14">54</text>
<text x="9.2" y="350.2" font-size="6.15" fill="#8c8c8c" text-anchor="end" textLength="6.39" lengthAdjust="spacingAndGlyphs" stroke="#8c8c8c" stroke-width="0.14">56</text>
<text x="32.9" y="365.2" font-size="6.15" fill="#8c8c8c" text-anchor="end" textLength="6.39" lengthAdjust="spacingAndGlyphs" stroke="#8c8c8c" stroke-width="0.14">35</text>
<text x="39.2" y="371.2" font-size="6.15" fill="#8c8c8c" text-anchor="end" textLength="6.39" lengthAdjust="spacingAndGlyphs" stroke="#8c8c8c" stroke-width="0.14">27</text>
<text x="27.1" y="373.2" font-size="6.15" fill="#8c8c8c" text-anchor="end" textLength="6.39" lengthAdjust="spacingAndGlyphs" stroke="#8c8c8c" stroke-width="0.14">62</text>
<text x="22.9" y="382.2" font-size="6.15" fill="#000" text-anchor="end" textLength="9.59" lengthAdjust="spacingAndGlyphs" stroke="#000" stroke-width="0.14">100</text>
<text x="14.8" y="401.2" font-size="6.15" fill="#000" text-anchor="end" textLength="9.59" lengthAdjust="spacingAndGlyphs" stroke="#000" stroke-width="0.14">100</text>
<text x="141.1" y="381.2" font-size="6.15" fill="#000" text-anchor="end" textLength="9.59" lengthAdjust="spacingAndGlyphs" stroke="#000" stroke-width="0.14">100</text>
<text x="138.7" y="391.2" font-size="6.15" fill="#000" text-anchor="end" textLength="9.59" lengthAdjust="spacingAndGlyphs" stroke="#000" stroke-width="0.14">100</text>
<text x="157.5" y="297.2" font-size="7.65" fill="#000">Geminiviridae</text>
<text x="157.5" y="312.6" font-size="7.65" fill="#000">Genomoviridae</text>
<text x="157.5" y="322.6" font-size="7.65" fill="#000">Circoviridae</text>
<text x="157.5" y="333" font-size="7.65" fill="#000">Smacoviridae</text>
<text x="157.5" y="343.1" font-size="7.65" fill="#000">Nanoviridae</text>
<text x="157.5" y="353.1" font-size="7.65" fill="#000">Bacilladnaviridae</text>
<text x="157.5" y="363.2" font-size="7.65" fill="#000">Bidnaviridae</text>
<text x="157.5" y="383.5" font-size="7.65" fill="#000">Parvoviridae</text>
<text x="157.5" y="404.2" font-size="7.65" fill="#000">Anelloviridae</text>
<line x1="158.2" y1="286.9" x2="166.6" y2="286.9" stroke="#a4a4a4" stroke-width="1"/>
<line x1="162.4" y1="286.9" x2="162.4" y2="289.5" stroke="#a4a4a4" stroke-width="0.9"/>
<line x1="158.2" y1="302.1" x2="166.6" y2="302.1" stroke="#a4a4a4" stroke-width="1"/>
<line x1="162.4" y1="299.5" x2="162.4" y2="302.1" stroke="#a4a4a4" stroke-width="0.9"/>
<line x1="158.2" y1="368.3" x2="166.6" y2="368.3" stroke="#a4a4a4" stroke-width="1"/>
<line x1="162.4" y1="368.3" x2="162.4" y2="375.3" stroke="#a4a4a4" stroke-width="1.3"/>
<line x1="158.2" y1="393.4" x2="166.6" y2="393.4" stroke="#a4a4a4" stroke-width="1"/>
<line x1="162.4" y1="386.4" x2="162.4" y2="393.4" stroke="#a4a4a4" stroke-width="1.3"/>
</g>
<g id="g3">
<text x="139.8" y="430.5" font-size="12.5" fill="#000" text-anchor="middle">Group III: dsRNA viruses</text>
<line x1="13.5" y1="465.5" x2="154.5" y2="465.5" stroke="#8e8e8e" stroke-width="1" stroke-dasharray="1.4 1.05"/>
<line x1="13.5" y1="524.5" x2="154.5" y2="524.5" stroke="#2a2a2a" stroke-width="0.8" stroke-dasharray="1.7 0.75"/>
<line x1="13.5" y1="465.5" x2="13.5" y2="524.5" stroke="#8e8e8e" stroke-width="1" stroke-dasharray="1.4 1.05"/>
<line x1="154.5" y1="465.5" x2="154.5" y2="524.5" stroke="#2a2a2a" stroke-width="0.8" stroke-dasharray="1.7 0.75"/>
<polygon points="47.7,449.5 150.5,443.7 150.5,454.1" fill="#fff" stroke="#000" stroke-width="0.6" stroke-linejoin="miter"/>
<line x1="150.5" y1="443.7" x2="150.5" y2="454.1" stroke="#000" stroke-width="1.1"/>
<polygon points="36,459.5 150.5,454.1 150.5,464.7" fill="url(#st)" stroke="#858585" stroke-width="0.7"/>
<polygon points="48.8,479.5 150.5,474.1 150.5,484.5" fill="#fff" stroke="#000" stroke-width="0.6" stroke-linejoin="miter"/>
<line x1="150.5" y1="474.1" x2="150.5" y2="484.5" stroke="#000" stroke-width="1.1"/>
<polygon points="85.7,510.5 150.5,504.8 150.5,515.4" fill="url(#st)" stroke="#858585" stroke-width="0.7"/>
<polygon points="38,530.5 150.5,525.4 150.5,536" fill="url(#st)" stroke="#858585" stroke-width="0.7"/>
<polygon points="87.4,541.5 150.5,536 150.5,546.5" fill="#fff" stroke="#000" stroke-width="0.6" stroke-linejoin="miter"/>
<line x1="150.5" y1="536" x2="150.5" y2="546.5" stroke="#000" stroke-width="1.1"/>
<polygon points="110.4,551.5 150.5,546.5 150.5,556.4" fill="url(#st)" stroke="#858585" stroke-width="0.7"/>
<polygon points="38.2,561.5 150.5,556.4 150.5,567" fill="#fff" stroke="#000" stroke-width="0.6" stroke-linejoin="miter"/>
<line x1="150.5" y1="556.4" x2="150.5" y2="567" stroke="#000" stroke-width="1.1"/>
<polygon points="75.8,571.5 150.5,567 150.5,577.4" fill="url(#st)" stroke="#858585" stroke-width="0.7"/>
<polygon points="88.1,581.5 150.5,577.4 150.5,587.3" fill="#fff" stroke="#000" stroke-width="0.6" stroke-linejoin="miter"/>
<line x1="150.5" y1="577.4" x2="150.5" y2="587.3" stroke="#000" stroke-width="1.1"/>
<polygon points="114.1,602.5 150.5,597.2 150.5,607.1" fill="#fff" stroke="#000" stroke-width="0.6" stroke-linejoin="miter"/>
<line x1="150.5" y1="597.2" x2="150.5" y2="607.1" stroke="#000" stroke-width="1.1"/>
<polygon points="45.6,612.5 150.5,607.1 150.5,617.8" fill="url(#st)" stroke="#858585" stroke-width="0.7"/>
<polygon points="148.2,622.5 150.5,617.8 150.5,627.7" fill="#fff" stroke="#000" stroke-width="0.6" stroke-linejoin="miter"/>
<line x1="150.5" y1="617.8" x2="150.5" y2="627.7" stroke="#000" stroke-width="1.1"/>
<polygon points="61.5,643.5 150.5,638 150.5,648.4" fill="#fff" stroke="#000" stroke-width="0.6" stroke-linejoin="miter"/>
<line x1="150.5" y1="638" x2="150.5" y2="648.4" stroke="#000" stroke-width="1.1"/>
<polygon points="74.2,653.5 150.5,648.4 150.5,659.1" fill="url(#st)" stroke="#858585" stroke-width="0.7"/>
<polygon points="148.5,663.5 150.5,659.1 150.5,667.7" fill="#fff" stroke="#000" stroke-width="0.6" stroke-linejoin="miter"/>
<line x1="150.5" y1="659.1" x2="150.5" y2="667.7" stroke="#000" stroke-width="1.1"/>
<polygon points="84.8,674.5 150.5,669 150.5,679.6" fill="url(#st)" stroke="#858585" stroke-width="0.7"/>
<polygon points="115.3,684.5 150.5,679.6 150.5,690" fill="#fff" stroke="#000" stroke-width="0.6" stroke-linejoin="miter"/>
<line x1="150.5" y1="679.6" x2="150.5" y2="690" stroke="#000" stroke-width="1.1"/>
<polygon points="65.8,694.5 150.5,690 150.5,699.9" fill="url(#st)" stroke="#858585" stroke-width="0.7"/>
<line x1="9.5" y1="449.5" x2="9.5" y2="679.5" stroke="#5a5a5a" stroke-width="1" stroke-linecap="square"/>
<line x1="9.5" y1="578.5" x2="9.5" y2="602.5" stroke="#000" stroke-width="1.64" stroke-linecap="square"/>
<line x1="9.5" y1="679.5" x2="9.5" y2="694.5" stroke="#9a9a9a" stroke-width="1" stroke-linecap="square"/>
<line x1="9.5" y1="449.5" x2="47.5" y2="449.5" stroke="#000" stroke-width="1" stroke-linecap="square"/>
<line x1="9.5" y1="459.5" x2="36.5" y2="459.5" stroke="#777" stroke-width="1" stroke-linecap="square"/>
<line x1="9.5" y1="490.5" x2="16.5" y2="490.5" stroke="#000" stroke-width="1" stroke-linecap="square"/>
<line x1="16.5" y1="469.5" x2="16.5" y2="510.5" stroke="#000" stroke-width="1" stroke-linecap="square"/>
<line x1="16.5" y1="469.5" x2="150.5" y2="469.5" stroke="#000" stroke-width="1" stroke-linecap="square"/>
<line x1="16.5" y1="510.5" x2="26.5" y2="510.5" stroke="#000" stroke-width="1" stroke-linecap="square"/>
<line x1="26.5" y1="501.5" x2="26.5" y2="520.5" stroke="#000" stroke-width="1" stroke-linecap="square"/>
<line x1="26.5" y1="520.5" x2="150.5" y2="520.5" stroke="#000" stroke-width="1" stroke-linecap="square"/>
<line x1="26.5" y1="501.5" x2="34.5" y2="501.5" stroke="#000" stroke-width="1" stroke-linecap="square"/>
<line x1="34.5" y1="479.5" x2="34.5" y2="500.5" stroke="#000" stroke-width="1" stroke-linecap="square"/>
<line x1="34.5" y1="500.5" x2="34.5" y2="510.5" stroke="#9a9a9a" stroke-width="1" stroke-linecap="square"/>
<line x1="34.5" y1="479.5" x2="48.5" y2="479.5" stroke="#000" stroke-width="1" stroke-linecap="square"/>
<line x1="34.5" y1="489.5" x2="150.5" y2="489.5" stroke="#9a9a9a" stroke-width="1" stroke-linecap="square"/>
<line x1="34.5" y1="500.5" x2="150.5" y2="500.5" stroke="#000" stroke-width="1.31" stroke-linecap="square"/>
<line x1="34.5" y1="510.5" x2="85.5" y2="510.5" stroke="#9a9a9a" stroke-width="1" stroke-linecap="square"/>
<line x1="16.5" y1="530.5" x2="38.5" y2="530.5" stroke="#777" stroke-width="1" stroke-linecap="square"/>
<line x1="16.5" y1="530.5" x2="16.5" y2="541.5" stroke="#000" stroke-width="1.23" stroke-linecap="square"/>
<line x1="16.5" y1="541.5" x2="87.5" y2="541.5" stroke="#000" stroke-width="1.23" stroke-linecap="square"/>
<line x1="14.5" y1="536.5" x2="16.5" y2="536.5" stroke="#000" stroke-width="1" stroke-linecap="square"/>
<line x1="14.5" y1="536.5" x2="14.5" y2="551.5" stroke="#9a9a9a" stroke-width="1" stroke-linecap="square"/>
<line x1="14.5" y1="551.5" x2="110.5" y2="551.5" stroke="#9a9a9a" stroke-width="1" stroke-linecap="square"/>
<line x1="12.5" y1="543.5" x2="14.5" y2="543.5" stroke="#000" stroke-width="1" stroke-linecap="square"/>
<line x1="12.5" y1="543.5" x2="12.5" y2="561.5" stroke="#000" stroke-width="1" stroke-linecap="square"/>
<line x1="12.5" y1="561.5" x2="38.5" y2="561.5" stroke="#000" stroke-width="1.23" stroke-linecap="square"/>
<line x1="9.5" y1="552.5" x2="12.5" y2="552.5" stroke="#000" stroke-width="1" stroke-linecap="square"/>
<line x1="9.5" y1="571.5" x2="75.5" y2="571.5" stroke="#9a9a9a" stroke-width="1" stroke-linecap="square"/>
<line x1="9.5" y1="587.5" x2="17.5" y2="587.5" stroke="#000" stroke-width="1" stroke-linecap="square"/>
<line x1="17.5" y1="581.5" x2="17.5" y2="592.5" stroke="#000" stroke-width="1" stroke-linecap="square"/>
<line x1="17.5" y1="581.5" x2="88.5" y2="581.5" stroke="#000" stroke-width="1.23" stroke-linecap="square"/>
<line x1="17.5" y1="592.5" x2="150.5" y2="592.5" stroke="#555" stroke-width="1" stroke-linecap="square"/>
<line x1="9.5" y1="602.5" x2="114.5" y2="602.5" stroke="#000" stroke-width="1.31" stroke-linecap="square"/>
<line x1="43.5" y1="612.5" x2="45.5" y2="612.5" stroke="#9a9a9a" stroke-width="1" stroke-linecap="square"/>
<line x1="43.5" y1="612.5" x2="43.5" y2="622.5" stroke="#000" stroke-width="1" stroke-linecap="square"/>
<line x1="43.5" y1="622.5" x2="148.5" y2="622.5" stroke="#000" stroke-width="1" stroke-linecap="square"/>
<line x1="38.5" y1="617.5" x2="43.5" y2="617.5" stroke="#000" stroke-width="1" stroke-linecap="square"/>
<line x1="38.5" y1="617.5" x2="38.5" y2="625.5" stroke="#000" stroke-width="1" stroke-linecap="square"/>
<line x1="38.5" y1="625.5" x2="38.5" y2="633.5" stroke="#9a9a9a" stroke-width="1" stroke-linecap="square"/>
<line x1="38.5" y1="633.5" x2="150.5" y2="633.5" stroke="#9a9a9a" stroke-width="1" stroke-linecap="square"/>
<line x1="21.5" y1="625.5" x2="38.5" y2="625.5" stroke="#000" stroke-width="1" stroke-linecap="square"/>
<line x1="21.5" y1="625.5" x2="21.5" y2="643.5" stroke="#000" stroke-width="1" stroke-linecap="square"/>
<line x1="21.5" y1="643.5" x2="61.5" y2="643.5" stroke="#000" stroke-width="1" stroke-linecap="square"/>
<line x1="17.5" y1="634.5" x2="21.5" y2="634.5" stroke="#000" stroke-width="1" stroke-linecap="square"/>
<line x1="17.5" y1="634.5" x2="17.5" y2="658.5" stroke="#000" stroke-width="1" stroke-linecap="square"/>
<line x1="17.5" y1="658.5" x2="47.5" y2="658.5" stroke="#000" stroke-width="1" stroke-linecap="square"/>
<line x1="47.5" y1="653.5" x2="47.5" y2="663.5" stroke="#000" stroke-width="1" stroke-linecap="square"/>
<line x1="47.5" y1="653.5" x2="74.5" y2="653.5" stroke="#9a9a9a" stroke-width="1" stroke-linecap="square"/>
<line x1="47.5" y1="663.5" x2="148.5" y2="663.5" stroke="#000" stroke-width="1" stroke-linecap="square"/>
<line x1="9.5" y1="646.5" x2="17.5" y2="646.5" stroke="#000" stroke-width="1" stroke-linecap="square"/>
<line x1="9.5" y1="679.5" x2="71.5" y2="679.5" stroke="#000" stroke-width="1" stroke-linecap="square"/>
<line x1="71.5" y1="674.5" x2="71.5" y2="684.5" stroke="#000" stroke-width="1" stroke-linecap="square"/>
<line x1="71.5" y1="674.5" x2="84.5" y2="674.5" stroke="#9a9a9a" stroke-width="1" stroke-linecap="square"/>
<line x1="71.5" y1="684.5" x2="115.5" y2="684.5" stroke="#000" stroke-width="1" stroke-linecap="square"/>
<line x1="9.5" y1="694.5" x2="65.5" y2="694.5" stroke="#9a9a9a" stroke-width="1" stroke-linecap="square"/>
<text x="9.5" y="453.2" font-size="6.15" fill="#8c8c8c" text-anchor="end" textLength="6.39" lengthAdjust="spacingAndGlyphs" stroke="#8c8c8c" stroke-width="0.14">69</text>
<text x="44.1" y="449.2" font-size="6.15" fill="#000" text-anchor="end" textLength="9.59" lengthAdjust="spacingAndGlyphs" stroke="#000" stroke-width="0.14">100</text>
<text x="22.9" y="459.2" font-size="6.15" fill="#000" text-anchor="end" textLength="6.39" lengthAdjust="spacingAndGlyphs" stroke="#000" stroke-width="0.14">73</text>
<text x="38.8" y="478.2" font-size="6.15" fill="#8c8c8c" text-anchor="end" textLength="6.39" lengthAdjust="spacingAndGlyphs" stroke="#8c8c8c" stroke-width="0.14">12</text>
<text x="38.8" y="483.25" font-size="6.15" fill="#f59a9a" text-anchor="end" textLength="6.39" lengthAdjust="spacingAndGlyphs" stroke="#f59a9a" stroke-width="0.14">24</text>
<text x="15.9" y="489.2" font-size="6.15" fill="#000" text-anchor="end" textLength="6.39" lengthAdjust="spacingAndGlyphs" stroke="#000" stroke-width="0.14">72</text>
<text x="33.9" y="500.2" font-size="6.15" fill="#8c8c8c" text-anchor="end" textLength="6.39" lengthAdjust="spacingAndGlyphs" stroke="#8c8c8c" stroke-width="0.14">61</text>
<text x="33.9" y="505.25" font-size="6.15" fill="#f00000" text-anchor="end" textLength="6.39" lengthAdjust="spacingAndGlyphs" stroke="#f00000" stroke-width="0.14">78</text>
<text x="26.9" y="510.2" font-size="6.15" fill="#000" text-anchor="end" textLength="6.39" lengthAdjust="spacingAndGlyphs" stroke="#000" stroke-width="0.14">98</text>
<text x="26.9" y="515.25" font-size="6.15" fill="#f00000" text-anchor="end" textLength="6.39" lengthAdjust="spacingAndGlyphs" stroke="#f00000" stroke-width="0.14">95</text>
<text x="82.7" y="510.2" font-size="6.15" fill="#000" text-anchor="end" textLength="9.59" lengthAdjust="spacingAndGlyphs" stroke="#000" stroke-width="0.14">100</text>
<text x="82.7" y="515.25" font-size="6.15" fill="#f00000" text-anchor="end" textLength="9.59" lengthAdjust="spacingAndGlyphs" stroke="#f00000" stroke-width="0.14">100</text>
<text x="33.9" y="530.2" font-size="6.15" fill="#000" text-anchor="end" textLength="6.39" lengthAdjust="spacingAndGlyphs" stroke="#000" stroke-width="0.14">92</text>
<text x="16.3" y="536.2" font-size="6.15" fill="#8c8c8c" text-anchor="end" textLength="6.39" lengthAdjust="spacingAndGlyphs" stroke="#8c8c8c" stroke-width="0.14">41</text>
<text x="15.5" y="544.2" font-size="6.15" fill="#8c8c8c" text-anchor="end" textLength="6.39" lengthAdjust="spacingAndGlyphs" stroke="#8c8c8c" stroke-width="0.14">31</text>
<text x="12" y="552.2" font-size="6.15" fill="#8c8c8c" text-anchor="end" textLength="6.39" lengthAdjust="spacingAndGlyphs" stroke="#8c8c8c" stroke-width="0.14">48</text>
<text x="33.9" y="561.2" font-size="6.15" fill="#000" text-anchor="end" textLength="9.59" lengthAdjust="spacingAndGlyphs" stroke="#000" stroke-width="0.14">100</text>
<text x="85.7" y="540.2" font-size="6.15" fill="#000" text-anchor="end" textLength="6.39" lengthAdjust="spacingAndGlyphs" stroke="#000" stroke-width="0.14">98</text>
<text x="108.2" y="551.2" font-size="6.15" fill="#000" text-anchor="end" textLength="6.39" lengthAdjust="spacingAndGlyphs" stroke="#000" stroke-width="0.14">98</text>
<text x="74" y="571.2" font-size="6.15" fill="#000" text-anchor="end" textLength="9.59" lengthAdjust="spacingAndGlyphs" stroke="#000" stroke-width="0.14">100</text>
<text x="8.6" y="579.2" font-size="6.15" fill="#8c8c8c" text-anchor="end" textLength="6.39" lengthAdjust="spacingAndGlyphs" stroke="#8c8c8c" stroke-width="0.14">51</text>
<text x="8.6" y="591.2" font-size="6.15" fill="#8c8c8c" text-anchor="end" textLength="6.39" lengthAdjust="spacingAndGlyphs" stroke="#8c8c8c" stroke-width="0.14">52</text>
<text x="17.2" y="587.2" font-size="6.15" fill="#000" text-anchor="end" textLength="6.39" lengthAdjust="spacingAndGlyphs" stroke="#000" stroke-width="0.14">83</text>
<text x="86.4" y="581.2" font-size="6.15" fill="#000" text-anchor="end" textLength="9.59" lengthAdjust="spacingAndGlyphs" stroke="#000" stroke-width="0.14">100</text>
<text x="111.2" y="602.2" font-size="6.15" fill="#000" text-anchor="end" textLength="9.59" lengthAdjust="spacingAndGlyphs" stroke="#000" stroke-width="0.14">100</text>
<text x="45.6" y="612.2" font-size="6.15" fill="#8c8c8c" text-anchor="end" textLength="6.39" lengthAdjust="spacingAndGlyphs" stroke="#8c8c8c" stroke-width="0.14">54</text>
<text x="43.9" y="617.2" font-size="6.15" fill="#000" text-anchor="end" textLength="6.39" lengthAdjust="spacingAndGlyphs" stroke="#000" stroke-width="0.14">94</text>
<text x="37.7" y="625.2" font-size="6.15" fill="#000" text-anchor="end" textLength="9.59" lengthAdjust="spacingAndGlyphs" stroke="#000" stroke-width="0.14">100</text>
<text x="21.8" y="634.2" font-size="6.15" fill="#000" text-anchor="end" textLength="6.39" lengthAdjust="spacingAndGlyphs" stroke="#000" stroke-width="0.14">99</text>
<text x="53" y="643.2" font-size="6.15" fill="#000" text-anchor="end" textLength="9.59" lengthAdjust="spacingAndGlyphs" stroke="#000" stroke-width="0.14">100</text>
<text x="17.6" y="646.2" font-size="6.15" fill="#000" text-anchor="end" textLength="9.59" lengthAdjust="spacingAndGlyphs" stroke="#000" stroke-width="0.14">100</text>
<text x="47.7" y="658.2" font-size="6.15" fill="#000" text-anchor="end" textLength="9.59" lengthAdjust="spacingAndGlyphs" stroke="#000" stroke-width="0.14">100</text>
<text x="72.1" y="653.2" font-size="6.15" fill="#000" text-anchor="end" textLength="9.59" lengthAdjust="spacingAndGlyphs" stroke="#000" stroke-width="0.14">100</text>
<text x="148.2" y="622.2" font-size="6.15" fill="#000" text-anchor="end" textLength="9.59" lengthAdjust="spacingAndGlyphs" stroke="#000" stroke-width="0.14">100</text>
<text x="150" y="663.2" font-size="6.15" fill="#000" text-anchor="end" textLength="9.59" lengthAdjust="spacingAndGlyphs" stroke="#000" stroke-width="0.14">100</text>
<text x="71.4" y="678.2" font-size="6.15" fill="#000" text-anchor="end" textLength="9.59" lengthAdjust="spacingAndGlyphs" stroke="#000" stroke-width="0.14">100</text>
<text x="82.3" y="673.2" font-size="6.15" fill="#000" text-anchor="end" textLength="6.39" lengthAdjust="spacingAndGlyphs" stroke="#000" stroke-width="0.14">89</text>
<text x="112" y="683.2" font-size="6.15" fill="#000" text-anchor="end" textLength="9.59" lengthAdjust="spacingAndGlyphs" stroke="#000" stroke-width="0.14">100</text>
<text x="15.9" y="688.2" font-size="6.15" fill="#8c8c8c" text-anchor="end" textLength="6.39" lengthAdjust="spacingAndGlyphs" stroke="#8c8c8c" stroke-width="0.14">64</text>
<text x="63.8" y="694.2" font-size="6.15" fill="#000" text-anchor="end" textLength="9.59" lengthAdjust="spacingAndGlyphs" stroke="#000" stroke-width="0.14">100</text>
<text x="157.5" y="452" font-size="7.65" fill="#000">Endornaviridae</text>
<text x="157.5" y="461.2" font-size="7.65" fill="#000">Hypoviridae</text>
<text x="157.5" y="477" font-size="7.65" fill="#000">Totiviridae</text>
<text x="157.5" y="491.6" font-size="7.65" fill="#000">Botybirnaviridae</text>
<text x="157.5" y="502.7" font-size="7.65" fill="#000">Quadriviridae</text>
<text x="157.5" y="511.9" font-size="7.65" fill="#000">Chrysoviridae</text>
<text x="157.5" y="522.5" font-size="7.65" fill="#000">Megabirnaviridae</text>
<text x="157.5" y="533.6" font-size="7.65" fill="#000">Partitiviridae</text>
<text x="157.5" y="543.5" font-size="7.65" fill="#000">Picobirnaviridae</text>
<text x="157.5" y="553" font-size="7.65" fill="#000">Amalgaviridae</text>
<text x="157.5" y="564.4" font-size="7.65" fill="#000">Reoviridae-Rotavirus</text>
<text x="157.5" y="574.2" font-size="7.65" fill="#000">Reoviridae-Orbivirus</text>
<text x="157.5" y="584.5" font-size="7.65" fill="#000">Reoviridae-Seadornavirus</text>
<text x="157.5" y="594.7" font-size="7.65" fill="#000">Reoviridae-Cardoreovirus</text>
<text x="157.5" y="604" font-size="7.65" fill="#000">Reoviridae-Phytoreovirus</text>
<text x="157.5" y="614.3" font-size="7.65" fill="#000">Reoviridae-Cypovirus</text>
<text x="157.5" y="625.6" font-size="7.65" fill="#000">Reoviridae-Dinovernavirus</text>
<text x="157.5" y="635.3" font-size="7.65" fill="#000">Reoviridae-Oryzavirus</text>
<text x="157.5" y="644.9" font-size="7.65" fill="#000">Reoviridae-Fijivirus</text>
<text x="157.5" y="655.3" font-size="7.65" fill="#000">Reoviridae-Mycoreovirus</text>
<text x="157.5" y="665.9" font-size="7.65" fill="#000">Reoviridae-Coltivirus</text>
<text x="157.5" y="676.5" font-size="7.65" fill="#000">Reoviridae-Orthoreovirus</text>
<text x="157.5" y="685.7" font-size="7.65" fill="#000">Reoviridae-Aquareovirus</text>
<text x="157.5" y="697.1" font-size="7.65" fill="#000">Birnaviridae</text>
<line x1="158.1" y1="467.7" x2="166.5" y2="467.7" stroke="#a4a4a4" stroke-width="1"/>
<line x1="162.3" y1="467.7" x2="162.3" y2="470.3" stroke="#a4a4a4" stroke-width="0.9"/>
<line x1="158.1" y1="482.1" x2="166.5" y2="482.1" stroke="#a4a4a4" stroke-width="1"/>
<line x1="162.3" y1="479.5" x2="162.3" y2="482.1" stroke="#a4a4a4" stroke-width="0.9"/>
</g>
<g id="g67">
<text x="139.4" y="723.2" font-size="12.5" fill="#000" text-anchor="middle">Group VI&amp;VII: RT viruses</text>
<polygon points="98,742.5 150.1,736.7 150.1,747.1" fill="url(#st)" stroke="#858585" stroke-width="0.7"/>
<polygon points="135,752.5 150.1,747.1 150.1,756.9" fill="#fff" stroke="#000" stroke-width="0.6" stroke-linejoin="miter"/>
<line x1="150.1" y1="747.1" x2="150.1" y2="756.9" stroke="#000" stroke-width="1.1"/>
<polygon points="87.3,762.5 150.1,756.9 150.1,767.1" fill="url(#st)" stroke="#858585" stroke-width="0.7"/>
<polygon points="113,772.5 150.1,767.1 150.1,777.3" fill="#fff" stroke="#000" stroke-width="0.6" stroke-linejoin="miter"/>
<line x1="150.1" y1="767.1" x2="150.1" y2="777.3" stroke="#000" stroke-width="1.1"/>
<polygon points="82.4,783.5 150.1,777.3 150.1,787.4" fill="url(#st)" stroke="#858585" stroke-width="0.7"/>
<polygon points="113,792.5 150.1,787.4 150.1,797.5" fill="#fff" stroke="#000" stroke-width="0.6" stroke-linejoin="miter"/>
<line x1="150.1" y1="787.4" x2="150.1" y2="797.5" stroke="#000" stroke-width="1.1"/>
<polygon points="116.5,802.5 150.1,797.5 150.1,807.7" fill="url(#st)" stroke="#858585" stroke-width="0.7"/>
<polygon points="70.7,813.5 150.1,807.7 150.1,818" fill="#fff" stroke="#000" stroke-width="0.6" stroke-linejoin="miter"/>
<line x1="150.1" y1="807.7" x2="150.1" y2="818" stroke="#000" stroke-width="1.1"/>
<polygon points="79,823.5 150.1,818 150.1,828.6" fill="url(#st)" stroke="#858585" stroke-width="0.7"/>
<line x1="23.5" y1="796.5" x2="23.5" y2="823.5" stroke="#9a9a9a" stroke-width="1" stroke-linecap="square"/>
<line x1="23.5" y1="823.5" x2="79.5" y2="823.5" stroke="#9a9a9a" stroke-width="1" stroke-linecap="square"/>
<line x1="22.5" y1="810.5" x2="23.5" y2="810.5" stroke="#555" stroke-width="1" stroke-linecap="square"/>
<line x1="23.5" y1="796.5" x2="34.5" y2="796.5" stroke="#000" stroke-width="1" stroke-linecap="square"/>
<line x1="34.5" y1="779.5" x2="34.5" y2="813.5" stroke="#000" stroke-width="1" stroke-linecap="square"/>
<line x1="34.5" y1="813.5" x2="70.5" y2="813.5" stroke="#000" stroke-width="1" stroke-linecap="square"/>
<line x1="34.5" y1="779.5" x2="45.5" y2="779.5" stroke="#000" stroke-width="1" stroke-linecap="square"/>
<line x1="45.5" y1="763.5" x2="45.5" y2="795.5" stroke="#444" stroke-width="1" stroke-linecap="square"/>
<line x1="45.5" y1="763.5" x2="58.5" y2="763.5" stroke="#000" stroke-width="1" stroke-linecap="square"/>
<line x1="45.5" y1="795.5" x2="51.5" y2="795.5" stroke="#555" stroke-width="1" stroke-linecap="square"/>
<line x1="58.5" y1="754.5" x2="58.5" y2="772.5" stroke="#000" stroke-width="1" stroke-linecap="square"/>
<line x1="58.5" y1="772.5" x2="113.5" y2="772.5" stroke="#000" stroke-width="1" stroke-linecap="square"/>
<line x1="58.5" y1="754.5" x2="61.5" y2="754.5" stroke="#000" stroke-width="1" stroke-linecap="square"/>
<line x1="61.5" y1="746.5" x2="61.5" y2="754.5" stroke="#000" stroke-width="1" stroke-linecap="square"/>
<line x1="61.5" y1="754.5" x2="61.5" y2="762.5" stroke="#9a9a9a" stroke-width="1" stroke-linecap="square"/>
<line x1="61.5" y1="746.5" x2="86.5" y2="746.5" stroke="#000" stroke-width="1" stroke-linecap="square"/>
<line x1="61.5" y1="762.5" x2="87.5" y2="762.5" stroke="#9a9a9a" stroke-width="1" stroke-linecap="square"/>
<line x1="86.5" y1="742.5" x2="86.5" y2="751.5" stroke="#000" stroke-width="1" stroke-linecap="square"/>
<line x1="86.5" y1="742.5" x2="98.5" y2="742.5" stroke="#9a9a9a" stroke-width="1" stroke-linecap="square"/>
<line x1="86.5" y1="751.5" x2="135.5" y2="751.5" stroke="#333" stroke-width="1.31" stroke-linecap="square"/>
<line x1="51.5" y1="787.5" x2="51.5" y2="802.5" stroke="#555" stroke-width="1" stroke-linecap="square"/>
<line x1="51.5" y1="802.5" x2="116.5" y2="802.5" stroke="#9a9a9a" stroke-width="1" stroke-linecap="square"/>
<line x1="51.5" y1="787.5" x2="65.5" y2="787.5" stroke="#444" stroke-width="1" stroke-linecap="square"/>
<line x1="65.5" y1="783.5" x2="65.5" y2="792.5" stroke="#444" stroke-width="1" stroke-linecap="square"/>
<line x1="65.5" y1="783.5" x2="82.5" y2="783.5" stroke="#9a9a9a" stroke-width="1" stroke-linecap="square"/>
<line x1="65.5" y1="792.5" x2="113.5" y2="792.5" stroke="#333" stroke-width="1.31" stroke-linecap="square"/>
<text x="97.2" y="741.2" font-size="6.15" fill="#000" text-anchor="end" textLength="6.39" lengthAdjust="spacingAndGlyphs" stroke="#000" stroke-width="0.14">87</text>
<text x="86.6" y="746.2" font-size="6.15" fill="#000" text-anchor="end" textLength="6.39" lengthAdjust="spacingAndGlyphs" stroke="#000" stroke-width="0.14">93</text>
<text x="134.2" y="751.2" font-size="6.15" fill="#000" text-anchor="end" textLength="6.39" lengthAdjust="spacingAndGlyphs" stroke="#000" stroke-width="0.14">98</text>
<text x="86.6" y="762.2" font-size="6.15" fill="#000" text-anchor="end" textLength="6.39" lengthAdjust="spacingAndGlyphs" stroke="#000" stroke-width="0.14">97</text>
<text x="58.7" y="762.2" font-size="6.15" fill="#000" text-anchor="end" textLength="6.39" lengthAdjust="spacingAndGlyphs" stroke="#000" stroke-width="0.14">93</text>
<text x="110.7" y="772.2" font-size="6.15" fill="#000" text-anchor="end" textLength="9.59" lengthAdjust="spacingAndGlyphs" stroke="#000" stroke-width="0.14">100</text>
<text x="45.9" y="778.2" font-size="6.15" fill="#000" text-anchor="end" textLength="6.39" lengthAdjust="spacingAndGlyphs" stroke="#000" stroke-width="0.14">98</text>
<text x="81" y="782.2" font-size="6.15" fill="#000" text-anchor="end" textLength="6.39" lengthAdjust="spacingAndGlyphs" stroke="#000" stroke-width="0.14">90</text>
<text x="65" y="787.2" font-size="6.15" fill="#000" text-anchor="end" textLength="6.39" lengthAdjust="spacingAndGlyphs" stroke="#000" stroke-width="0.14">88</text>
<text x="105" y="792.2" font-size="6.15" fill="#000" text-anchor="end" textLength="9.59" lengthAdjust="spacingAndGlyphs" stroke="#000" stroke-width="0.14">100</text>
<text x="51.2" y="795.2" font-size="6.15" fill="#000" text-anchor="end" textLength="6.39" lengthAdjust="spacingAndGlyphs" stroke="#000" stroke-width="0.14">81</text>
<text x="33.9" y="795.2" font-size="6.15" fill="#000" text-anchor="end" textLength="9.59" lengthAdjust="spacingAndGlyphs" stroke="#000" stroke-width="0.14">100</text>
<text x="113" y="802.2" font-size="6.15" fill="#000" text-anchor="end" textLength="9.59" lengthAdjust="spacingAndGlyphs" stroke="#000" stroke-width="0.14">100</text>
<text x="65.7" y="812.2" font-size="6.15" fill="#000" text-anchor="end" textLength="9.59" lengthAdjust="spacingAndGlyphs" stroke="#000" stroke-width="0.14">100</text>
<text x="77.7" y="822.2" font-size="6.15" fill="#000" text-anchor="end" textLength="9.59" lengthAdjust="spacingAndGlyphs" stroke="#000" stroke-width="0.14">100</text>
<text x="157.8" y="744.4" font-size="7.65" fill="#000">Retroviridae-Betaretrovirus</text>
<text x="157.8" y="754.2" font-size="7.65" fill="#000">Retroviridae-Alpharetrovirus</text>
<text x="157.8" y="765.1" font-size="7.65" fill="#000">Retroviridae-Lentivirus</text>
<text x="157.8" y="774.8" font-size="7.65" fill="#000">Retroviridae-Deltaretrovirus</text>
<text x="157.8" y="785.1" font-size="7.65" fill="#000">Retroviridae-Gammaretrovirus</text>
<text x="157.8" y="794.8" font-size="7.65" fill="#000">Retroviridae-Epsilonretrovirus</text>
<text x="157.8" y="804.9" font-size="7.65" fill="#000">Retroviridae-Spumavirus</text>
<text x="157.8" y="816" font-size="7.65" fill="#000">Caulimoviridae</text>
<text x="157.8" y="825.4" font-size="7.65" fill="#000">Hepadnaviridae</text>
<line x1="260.5" y1="739.4" x2="268.7" y2="739.4" stroke="#666" stroke-width="0.9"/>
<line x1="260.5" y1="815.9" x2="268.7" y2="815.9" stroke="#666" stroke-width="0.9"/>
<line x1="264.6" y1="739.4" x2="264.6" y2="815.9" stroke="#666" stroke-width="0.9"/>
<text transform="translate(271.3 777.7) rotate(90)" text-anchor="middle" font-size="7.8" fill="#000">Ortervirales</text>
</g>
<g id="g4">
<text x="422.7" y="8.7" font-size="12.5" fill="#000" text-anchor="middle">Group IV: (+)ssRNA viruses</text>
<line x1="285.5" y1="18.5" x2="437.5" y2="18.5" stroke="#2a2a2a" stroke-width="0.8" stroke-dasharray="1.7 0.75"/>
<line x1="285.5" y1="156.5" x2="437.5" y2="156.5" stroke="#2a2a2a" stroke-width="0.8" stroke-dasharray="1.7 0.75"/>
<line x1="285.5" y1="18.5" x2="285.5" y2="156.5" stroke="#8e8e8e" stroke-width="1" stroke-dasharray="1.4 1.05"/>
<line x1="437.5" y1="18.5" x2="437.5" y2="156.5" stroke="#2a2a2a" stroke-width="0.8" stroke-dasharray="1.7 0.75"/>
<line x1="286.5" y1="158.5" x2="437.5" y2="158.5" stroke="#2a2a2a" stroke-width="0.8" stroke-dasharray="1.7 0.75"/>
<line x1="286.5" y1="257.5" x2="437.5" y2="257.5" stroke="#2a2a2a" stroke-width="0.8" stroke-dasharray="1.7 0.75"/>
<line x1="286.5" y1="158.5" x2="286.5" y2="257.5" stroke="#8e8e8e" stroke-width="1" stroke-dasharray="1.4 1.05"/>
<line x1="437.5" y1="158.5" x2="437.5" y2="257.5" stroke="#2a2a2a" stroke-width="0.8" stroke-dasharray="1.7 0.75"/>
<line x1="297.5" y1="258.5" x2="437.5" y2="258.5" stroke="#2a2a2a" stroke-width="0.8" stroke-dasharray="1.7 0.75"/>
<line x1="297.5" y1="388.5" x2="437.5" y2="388.5" stroke="#2a2a2a" stroke-width="0.8" stroke-dasharray="1.7 0.75"/>
<line x1="297.5" y1="258.5" x2="297.5" y2="388.5" stroke="#8e8e8e" stroke-width="1" stroke-dasharray="1.4 1.05"/>
<line x1="437.5" y1="258.5" x2="437.5" y2="388.5" stroke="#2a2a2a" stroke-width="0.8" stroke-dasharray="1.7 0.75"/>
<polygon points="355.9,27.5 433.3,22.1 433.3,32" fill="url(#st)" stroke="#858585" stroke-width="0.7"/>
<polygon points="354.8,37.5 433.3,32 433.3,42.6" fill="url(#st)" stroke="#858585" stroke-width="0.7"/>
<polygon points="362.3,47.5 433.3,42.6 433.3,52.8" fill="#fff" stroke="#000" stroke-width="0.6" stroke-linejoin="miter"/>
<line x1="433.3" y1="42.6" x2="433.3" y2="52.8" stroke="#000" stroke-width="1.1"/>
<polygon points="379.2,57.5 433.3,52.8 433.3,63.2" fill="url(#st)" stroke="#858585" stroke-width="0.7"/>
<polygon points="371.8,68.5 433.3,63.2 433.3,72.9" fill="#fff" stroke="#000" stroke-width="0.6" stroke-linejoin="miter"/>
<line x1="433.3" y1="63.2" x2="433.3" y2="72.9" stroke="#000" stroke-width="1.1"/>
<polygon points="421.6,78.5 433.3,72.9 433.3,82.9" fill="#fff" stroke="#000" stroke-width="0.6" stroke-linejoin="miter"/>
<line x1="433.3" y1="72.9" x2="433.3" y2="82.9" stroke="#000" stroke-width="1.1"/>
<polygon points="358,88.5 433.3,82.9 433.3,93.5" fill="url(#st)" stroke="#858585" stroke-width="0.7"/>
<polygon points="352.7,109.5 433.3,104.2 433.3,114.1" fill="url(#st)" stroke="#858585" stroke-width="0.7"/>
<polygon points="351.7,119.5 433.3,114.1 433.3,124.3" fill="#fff" stroke="#000" stroke-width="0.6" stroke-linejoin="miter"/>
<line x1="433.3" y1="114.1" x2="433.3" y2="124.3" stroke="#000" stroke-width="1.1"/>
<polygon points="360,129.5 433.3,124.3 433.3,134.7" fill="url(#st)" stroke="#858585" stroke-width="0.7"/>
<polygon points="368.6,140.5 433.3,134.7 433.3,144.9" fill="#fff" stroke="#000" stroke-width="0.6" stroke-linejoin="miter"/>
<line x1="433.3" y1="134.7" x2="433.3" y2="144.9" stroke="#000" stroke-width="1.1"/>
<polygon points="322,149.5 433.3,144.9 433.3,155" fill="url(#st)" stroke="#858585" stroke-width="0.7"/>
<polygon points="370.7,181.5 433.3,175.3 433.3,186.1" fill="url(#st)" stroke="#858585" stroke-width="0.7"/>
<polygon points="408.3,191.5 433.3,186.1 433.3,196" fill="#fff" stroke="#000" stroke-width="0.6" stroke-linejoin="miter"/>
<line x1="433.3" y1="186.1" x2="433.3" y2="196" stroke="#000" stroke-width="1.1"/>
<polygon points="397.2,201.5 433.3,196 433.3,206" fill="#fff" stroke="#000" stroke-width="0.6" stroke-linejoin="miter"/>
<line x1="433.3" y1="196" x2="433.3" y2="206" stroke="#000" stroke-width="1.1"/>
<polygon points="403.6,211.5 433.3,206 433.3,216.2" fill="#fff" stroke="#000" stroke-width="0.6" stroke-linejoin="miter"/>
<line x1="433.3" y1="206" x2="433.3" y2="216.2" stroke="#000" stroke-width="1.1"/>
<polygon points="395.1,232.5 433.3,226.8 433.3,237.4" fill="url(#st)" stroke="#858585" stroke-width="0.7"/>
<polygon points="327.7,252.5 433.3,247.4 433.3,257" fill="url(#st)" stroke="#858585" stroke-width="0.7"/>
<polygon points="370.7,262.5 433.3,258 433.3,268" fill="#fff" stroke="#000" stroke-width="0.6" stroke-linejoin="miter"/>
<line x1="433.3" y1="258" x2="433.3" y2="268" stroke="#000" stroke-width="1.1"/>
<polygon points="380,273.5 433.3,268 433.3,278.2" fill="url(#st)" stroke="#858585" stroke-width="0.7"/>
<polygon points="393,293.5 433.3,288.3 433.3,298.3" fill="url(#st)" stroke="#858585" stroke-width="0.7"/>
<polygon points="396,303.5 433.3,298.3 433.3,307.8" fill="#fff" stroke="#000" stroke-width="0.6" stroke-linejoin="miter"/>
<line x1="433.3" y1="298.3" x2="433.3" y2="307.8" stroke="#000" stroke-width="1.1"/>
<polygon points="377,313.5 433.3,307.8 433.3,318.4" fill="url(#st)" stroke="#858585" stroke-width="0.7"/>
<polygon points="380,323.5 433.3,318.4 433.3,329.1" fill="#fff" stroke="#000" stroke-width="0.6" stroke-linejoin="miter"/>
<line x1="433.3" y1="318.4" x2="433.3" y2="329.1" stroke="#000" stroke-width="1.1"/>
<polygon points="361.2,333.5 433.3,329.1 433.3,338.6" fill="url(#st)" stroke="#858585" stroke-width="0.7"/>
<polygon points="413.1,344.5 433.3,338.6 433.3,349.2" fill="#fff" stroke="#000" stroke-width="0.6" stroke-linejoin="miter"/>
<line x1="433.3" y1="338.6" x2="433.3" y2="349.2" stroke="#000" stroke-width="1.1"/>
<polygon points="381.3,354.5 433.3,349.2 433.3,358.8" fill="url(#st)" stroke="#858585" stroke-width="0.7"/>
<polygon points="343.6,365.5 433.3,358.8 433.3,369.4" fill="#fff" stroke="#000" stroke-width="0.6" stroke-linejoin="miter"/>
<line x1="433.3" y1="358.8" x2="433.3" y2="369.4" stroke="#000" stroke-width="1.1"/>
<polygon points="387.7,375.5 433.3,369.4 433.3,380" fill="url(#st)" stroke="#858585" stroke-width="0.7"/>
<polygon points="314,396.5 433.3,390.4 433.3,401" fill="url(#st)" stroke="#858585" stroke-width="0.7"/>
<polygon points="425.3,406.5 433.3,401 433.3,410.9" fill="#fff" stroke="#000" stroke-width="0.6" stroke-linejoin="miter"/>
<line x1="433.3" y1="401" x2="433.3" y2="410.9" stroke="#000" stroke-width="1.1"/>
<polygon points="369.5,426.5 433.3,420.8 433.3,431.4" fill="#fff" stroke="#000" stroke-width="0.6" stroke-linejoin="miter"/>
<line x1="433.3" y1="420.8" x2="433.3" y2="431.4" stroke="#000" stroke-width="1.1"/>
<polygon points="301.2,446.5 433.3,441.8 433.3,452.2" fill="#fff" stroke="#000" stroke-width="0.6" stroke-linejoin="miter"/>
<line x1="433.3" y1="441.8" x2="433.3" y2="452.2" stroke="#000" stroke-width="1.1"/>
<line x1="327.5" y1="27.5" x2="327.5" y2="108.5" stroke="#000" stroke-width="1" stroke-linecap="square"/>
<line x1="327.5" y1="27.5" x2="355.5" y2="27.5" stroke="#000" stroke-width="1" stroke-linecap="square"/>
<line x1="310.5" y1="67.5" x2="327.5" y2="67.5" stroke="#000" stroke-width="1.31" stroke-linecap="square"/>
<line x1="347.5" y1="37.5" x2="354.5" y2="37.5" stroke="#555" stroke-width="1" stroke-linecap="square"/>
<line x1="347.5" y1="37.5" x2="347.5" y2="52.5" stroke="#555" stroke-width="1" stroke-linecap="square"/>
<line x1="347.5" y1="52.5" x2="347.5" y2="70.5" stroke="#000" stroke-width="1.97" stroke-linecap="square"/>
<line x1="347.5" y1="66.5" x2="350.5" y2="66.5" stroke="#000" stroke-width="1" stroke-linecap="square"/>
<line x1="350.5" y1="55.5" x2="350.5" y2="78.5" stroke="#000" stroke-width="1" stroke-linecap="square"/>
<line x1="350.5" y1="78.5" x2="421.5" y2="78.5" stroke="#000" stroke-width="1.23" stroke-linecap="square"/>
<line x1="350.5" y1="55.5" x2="358.5" y2="55.5" stroke="#000" stroke-width="1" stroke-linecap="square"/>
<line x1="358.5" y1="47.5" x2="358.5" y2="63.5" stroke="#000" stroke-width="1" stroke-linecap="square"/>
<line x1="358.5" y1="47.5" x2="362.5" y2="47.5" stroke="#444" stroke-width="1" stroke-linecap="square"/>
<line x1="358.5" y1="63.5" x2="365.5" y2="63.5" stroke="#000" stroke-width="1" stroke-linecap="square"/>
<line x1="365.5" y1="57.5" x2="365.5" y2="68.5" stroke="#000" stroke-width="1" stroke-linecap="square"/>
<line x1="365.5" y1="57.5" x2="379.5" y2="57.5" stroke="#9a9a9a" stroke-width="1" stroke-linecap="square"/>
<line x1="365.5" y1="68.5" x2="371.5" y2="68.5" stroke="#555" stroke-width="1" stroke-linecap="square"/>
<line x1="343.5" y1="70.5" x2="347.5" y2="70.5" stroke="#000" stroke-width="1" stroke-linecap="square"/>
<line x1="347.5" y1="70.5" x2="347.5" y2="88.5" stroke="#9a9a9a" stroke-width="1" stroke-linecap="square"/>
<line x1="347.5" y1="88.5" x2="358.5" y2="88.5" stroke="#9a9a9a" stroke-width="1" stroke-linecap="square"/>
<line x1="343.5" y1="70.5" x2="343.5" y2="99.5" stroke="#000" stroke-width="1" stroke-linecap="square"/>
<line x1="343.5" y1="98.5" x2="433.5" y2="98.5" stroke="#444" stroke-width="1.48" stroke-linecap="square"/>
<line x1="335.5" y1="84.5" x2="343.5" y2="84.5" stroke="#000" stroke-width="1" stroke-linecap="square"/>
<line x1="335.5" y1="84.5" x2="335.5" y2="119.5" stroke="#333" stroke-width="1" stroke-linecap="square"/>
<line x1="335.5" y1="119.5" x2="351.5" y2="119.5" stroke="#000" stroke-width="1" stroke-linecap="square"/>
<line x1="327.5" y1="108.5" x2="335.5" y2="108.5" stroke="#000" stroke-width="1" stroke-linecap="square"/>
<line x1="335.5" y1="109.5" x2="352.5" y2="109.5" stroke="#9a9a9a" stroke-width="1" stroke-linecap="square"/>
<line x1="310.5" y1="67.5" x2="310.5" y2="129.5" stroke="#444" stroke-width="1" stroke-linecap="square"/>
<line x1="310.5" y1="129.5" x2="360.5" y2="129.5" stroke="#555" stroke-width="1" stroke-linecap="square"/>
<line x1="303.5" y1="98.5" x2="310.5" y2="98.5" stroke="#000" stroke-width="1" stroke-linecap="square"/>
<line x1="303.5" y1="98.5" x2="303.5" y2="140.5" stroke="#000" stroke-width="1" stroke-linecap="square"/>
<line x1="303.5" y1="140.5" x2="368.5" y2="140.5" stroke="#000" stroke-width="1" stroke-linecap="square"/>
<line x1="298.5" y1="119.5" x2="303.5" y2="119.5" stroke="#000" stroke-width="1" stroke-linecap="square"/>
<line x1="298.5" y1="119.5" x2="298.5" y2="135.5" stroke="#000" stroke-width="1" stroke-linecap="square"/>
<line x1="298.5" y1="135.5" x2="298.5" y2="149.5" stroke="#9a9a9a" stroke-width="1" stroke-linecap="square"/>
<line x1="298.5" y1="149.5" x2="322.5" y2="149.5" stroke="#9a9a9a" stroke-width="1" stroke-linecap="square"/>
<line x1="294.5" y1="135.5" x2="298.5" y2="135.5" stroke="#000" stroke-width="1" stroke-linecap="square"/>
<line x1="294.5" y1="135.5" x2="294.5" y2="221.5" stroke="#000" stroke-width="1.23" stroke-linecap="square"/>
<line x1="293.5" y1="196.5" x2="293.5" y2="222.5" stroke="#000" stroke-width="2.46" stroke-linecap="square"/>
<line x1="294.5" y1="221.5" x2="294.5" y2="356.5" stroke="#777" stroke-width="1" stroke-linecap="square"/>
<line x1="292.5" y1="179.5" x2="292.5" y2="403.5" stroke="#333" stroke-width="1" stroke-linecap="square"/>
<line x1="292.5" y1="403.5" x2="292.5" y2="446.5" stroke="#777" stroke-width="1" stroke-linecap="square"/>
<line x1="290.5" y1="403.5" x2="292.5" y2="403.5" stroke="#333" stroke-width="1" stroke-linecap="square"/>
<line x1="294.5" y1="252.5" x2="327.5" y2="252.5" stroke="#9a9a9a" stroke-width="1" stroke-linecap="square"/>
<line x1="294.5" y1="196.5" x2="301.5" y2="196.5" stroke="#000" stroke-width="1" stroke-linecap="square"/>
<line x1="301.5" y1="169.5" x2="301.5" y2="223.5" stroke="#000" stroke-width="1" stroke-linecap="square"/>
<line x1="301.5" y1="169.5" x2="326.5" y2="169.5" stroke="#000" stroke-width="1" stroke-linecap="square"/>
<line x1="301.5" y1="223.5" x2="340.5" y2="223.5" stroke="#000" stroke-width="1" stroke-linecap="square"/>
<line x1="326.5" y1="160.5" x2="326.5" y2="178.5" stroke="#000" stroke-width="1" stroke-linecap="square"/>
<line x1="326.5" y1="160.5" x2="433.5" y2="160.5" stroke="#000" stroke-width="1" stroke-linecap="square"/>
<line x1="326.5" y1="178.5" x2="339.5" y2="178.5" stroke="#000" stroke-width="1" stroke-linecap="square"/>
<line x1="339.5" y1="170.5" x2="339.5" y2="186.5" stroke="#000" stroke-width="1" stroke-linecap="square"/>
<line x1="339.5" y1="170.5" x2="433.5" y2="170.5" stroke="#444" stroke-width="1" stroke-linecap="square"/>
<line x1="339.5" y1="186.5" x2="355.5" y2="186.5" stroke="#000" stroke-width="1" stroke-linecap="square"/>
<line x1="355.5" y1="181.5" x2="355.5" y2="191.5" stroke="#555" stroke-width="1" stroke-linecap="square"/>
<line x1="355.5" y1="181.5" x2="370.5" y2="181.5" stroke="#9a9a9a" stroke-width="1" stroke-linecap="square"/>
<line x1="355.5" y1="191.5" x2="408.5" y2="191.5" stroke="#555" stroke-width="1" stroke-linecap="square"/>
<line x1="340.5" y1="208.5" x2="340.5" y2="237.5" stroke="#000" stroke-width="1" stroke-linecap="square"/>
<line x1="340.5" y1="208.5" x2="374.5" y2="208.5" stroke="#000" stroke-width="1" stroke-linecap="square"/>
<line x1="340.5" y1="237.5" x2="349.5" y2="237.5" stroke="#000" stroke-width="1" stroke-linecap="square"/>
<line x1="374.5" y1="201.5" x2="374.5" y2="216.5" stroke="#000" stroke-width="1" stroke-linecap="square"/>
<line x1="374.5" y1="201.5" x2="397.5" y2="201.5" stroke="#000" stroke-width="1" stroke-linecap="square"/>
<line x1="374.5" y1="216.5" x2="378.5" y2="216.5" stroke="#000" stroke-width="1" stroke-linecap="square"/>
<line x1="378.5" y1="211.5" x2="378.5" y2="221.5" stroke="#000" stroke-width="1" stroke-linecap="square"/>
<line x1="378.5" y1="211.5" x2="403.5" y2="211.5" stroke="#000" stroke-width="1.23" stroke-linecap="square"/>
<line x1="378.5" y1="221.5" x2="433.5" y2="221.5" stroke="#9a9a9a" stroke-width="1" stroke-linecap="square"/>
<line x1="349.5" y1="232.5" x2="349.5" y2="241.5" stroke="#000" stroke-width="1" stroke-linecap="square"/>
<line x1="349.5" y1="232.5" x2="395.5" y2="232.5" stroke="#9a9a9a" stroke-width="1" stroke-linecap="square"/>
<line x1="349.5" y1="241.5" x2="433.5" y2="241.5" stroke="#000" stroke-width="1" stroke-linecap="square"/>
<line x1="292.5" y1="356.5" x2="305.5" y2="356.5" stroke="#000" stroke-width="1" stroke-linecap="square"/>
<line x1="305.5" y1="327.5" x2="305.5" y2="385.5" stroke="#000" stroke-width="1" stroke-linecap="square"/>
<line x1="305.5" y1="385.5" x2="433.5" y2="385.5" stroke="#000" stroke-width="1" stroke-linecap="square"/>
<line x1="305.5" y1="327.5" x2="308.5" y2="327.5" stroke="#000" stroke-width="1" stroke-linecap="square"/>
<line x1="307.5" y1="293.5" x2="307.5" y2="347.5" stroke="#000" stroke-width="1" stroke-linecap="square"/>
<line x1="308.5" y1="347.5" x2="308.5" y2="375.5" stroke="#9a9a9a" stroke-width="1" stroke-linecap="square"/>
<line x1="308.5" y1="375.5" x2="387.5" y2="375.5" stroke="#9a9a9a" stroke-width="1" stroke-linecap="square"/>
<line x1="307.5" y1="293.5" x2="328.5" y2="293.5" stroke="#000" stroke-width="1" stroke-linecap="square"/>
<line x1="328.5" y1="284.5" x2="328.5" y2="303.5" stroke="#000" stroke-width="1" stroke-linecap="square"/>
<line x1="328.5" y1="303.5" x2="396.5" y2="303.5" stroke="#000" stroke-width="1" stroke-linecap="square"/>
<line x1="328.5" y1="284.5" x2="343.5" y2="284.5" stroke="#000" stroke-width="1" stroke-linecap="square"/>
<line x1="343.5" y1="276.5" x2="343.5" y2="284.5" stroke="#000" stroke-width="1" stroke-linecap="square"/>
<line x1="343.5" y1="284.5" x2="343.5" y2="293.5" stroke="#9a9a9a" stroke-width="1" stroke-linecap="square"/>
<line x1="343.5" y1="293.5" x2="393.5" y2="293.5" stroke="#9a9a9a" stroke-width="1" stroke-linecap="square"/>
<line x1="343.5" y1="276.5" x2="350.5" y2="276.5" stroke="#000" stroke-width="1" stroke-linecap="square"/>
<line x1="350.5" y1="267.5" x2="350.5" y2="283.5" stroke="#000" stroke-width="1" stroke-linecap="square"/>
<line x1="350.5" y1="283.5" x2="433.5" y2="283.5" stroke="#000" stroke-width="1" stroke-linecap="square"/>
<line x1="350.5" y1="267.5" x2="363.5" y2="267.5" stroke="#555" stroke-width="1" stroke-linecap="square"/>
<line x1="363.5" y1="262.5" x2="363.5" y2="273.5" stroke="#555" stroke-width="1" stroke-linecap="square"/>
<line x1="363.5" y1="262.5" x2="370.5" y2="262.5" stroke="#555" stroke-width="1" stroke-linecap="square"/>
<line x1="363.5" y1="273.5" x2="380.5" y2="273.5" stroke="#9a9a9a" stroke-width="1" stroke-linecap="square"/>
<line x1="308.5" y1="347.5" x2="316.5" y2="347.5" stroke="#000" stroke-width="1" stroke-linecap="square"/>
<line x1="316.5" y1="335.5" x2="316.5" y2="360.5" stroke="#000" stroke-width="1" stroke-linecap="square"/>
<line x1="316.5" y1="335.5" x2="325.5" y2="335.5" stroke="#000" stroke-width="1" stroke-linecap="square"/>
<line x1="316.5" y1="360.5" x2="323.5" y2="360.5" stroke="#555" stroke-width="1" stroke-linecap="square"/>
<line x1="325.5" y1="326.5" x2="325.5" y2="344.5" stroke="#000" stroke-width="1" stroke-linecap="square"/>
<line x1="325.5" y1="326.5" x2="351.5" y2="326.5" stroke="#000" stroke-width="1" stroke-linecap="square"/>
<line x1="325.5" y1="344.5" x2="413.5" y2="344.5" stroke="#000" stroke-width="1.23" stroke-linecap="square"/>
<line x1="351.5" y1="318.5" x2="351.5" y2="326.5" stroke="#000" stroke-width="1" stroke-linecap="square"/>
<line x1="351.5" y1="326.5" x2="351.5" y2="333.5" stroke="#9a9a9a" stroke-width="1" stroke-linecap="square"/>
<line x1="351.5" y1="333.5" x2="361.5" y2="333.5" stroke="#9a9a9a" stroke-width="1" stroke-linecap="square"/>
<line x1="351.5" y1="318.5" x2="365.5" y2="318.5" stroke="#000" stroke-width="1" stroke-linecap="square"/>
<line x1="365.5" y1="313.5" x2="365.5" y2="323.5" stroke="#000" stroke-width="1" stroke-linecap="square"/>
<line x1="365.5" y1="313.5" x2="377.5" y2="313.5" stroke="#555" stroke-width="1" stroke-linecap="square"/>
<line x1="365.5" y1="323.5" x2="380.5" y2="323.5" stroke="#000" stroke-width="1" stroke-linecap="square"/>
<line x1="323.5" y1="354.5" x2="323.5" y2="365.5" stroke="#555" stroke-width="1" stroke-linecap="square"/>
<line x1="323.5" y1="354.5" x2="381.5" y2="354.5" stroke="#9a9a9a" stroke-width="1" stroke-linecap="square"/>
<line x1="323.5" y1="365.5" x2="343.5" y2="365.5" stroke="#000" stroke-width="1" stroke-linecap="square"/>
<line x1="305.5" y1="396.5" x2="314.5" y2="396.5" stroke="#000" stroke-width="1" stroke-linecap="square"/>
<line x1="305.5" y1="396.5" x2="305.5" y2="406.5" stroke="#000" stroke-width="1" stroke-linecap="square"/>
<line x1="305.5" y1="406.5" x2="425.5" y2="406.5" stroke="#000" stroke-width="1" stroke-linecap="square"/>
<line x1="302.5" y1="401.5" x2="305.5" y2="401.5" stroke="#000" stroke-width="1" stroke-linecap="square"/>
<line x1="302.5" y1="401.5" x2="302.5" y2="416.5" stroke="#555" stroke-width="1" stroke-linecap="square"/>
<line x1="302.5" y1="416.5" x2="433.5" y2="416.5" stroke="#9a9a9a" stroke-width="1" stroke-linecap="square"/>
<line x1="299.5" y1="408.5" x2="302.5" y2="408.5" stroke="#000" stroke-width="1" stroke-linecap="square"/>
<line x1="299.5" y1="408.5" x2="299.5" y2="426.5" stroke="#000" stroke-width="1" stroke-linecap="square"/>
<line x1="299.5" y1="426.5" x2="369.5" y2="426.5" stroke="#000" stroke-width="1" stroke-linecap="square"/>
<line x1="292.5" y1="417.5" x2="299.5" y2="417.5" stroke="#000" stroke-width="1" stroke-linecap="square"/>
<line x1="292.5" y1="436.5" x2="433.5" y2="436.5" stroke="#9a9a9a" stroke-width="1" stroke-linecap="square"/>
<line x1="292.5" y1="446.5" x2="301.5" y2="446.5" stroke="#000" stroke-width="1" stroke-linecap="square"/>
<text x="355.2" y="27.2" font-size="6.15" fill="#000" text-anchor="end" textLength="9.59" lengthAdjust="spacingAndGlyphs" stroke="#000" stroke-width="0.14">100</text>
<text x="355.2" y="32.25" font-size="6.15" fill="#f00000" text-anchor="end" textLength="6.39" lengthAdjust="spacingAndGlyphs" stroke="#f00000" stroke-width="0.14">99</text>
<text x="355.6" y="37.2" font-size="6.15" fill="#8c8c8c" text-anchor="end" textLength="6.39" lengthAdjust="spacingAndGlyphs" stroke="#8c8c8c" stroke-width="0.14">53</text>
<text x="355.6" y="42.25" font-size="6.15" fill="#f59a9a" text-anchor="end" textLength="6.39" lengthAdjust="spacingAndGlyphs" stroke="#f59a9a" stroke-width="0.14">52</text>
<text x="361.8" y="47.2" font-size="6.15" fill="#8c8c8c" text-anchor="end" textLength="6.39" lengthAdjust="spacingAndGlyphs" stroke="#8c8c8c" stroke-width="0.14">13</text>
<text x="361.8" y="52.25" font-size="6.15" fill="#f59a9a" text-anchor="end" textLength="6.39" lengthAdjust="spacingAndGlyphs" stroke="#f59a9a" stroke-width="0.14">12</text>
<text x="379.2" y="57.2" font-size="6.15" fill="#000" text-anchor="end" textLength="6.39" lengthAdjust="spacingAndGlyphs" stroke="#000" stroke-width="0.14">78</text>
<text x="379.2" y="62.25" font-size="6.15" fill="#f00000" text-anchor="end" textLength="6.39" lengthAdjust="spacingAndGlyphs" stroke="#f00000" stroke-width="0.14">77</text>
<text x="372" y="68.2" font-size="6.15" fill="#8c8c8c" text-anchor="end" textLength="6.39" lengthAdjust="spacingAndGlyphs" stroke="#8c8c8c" stroke-width="0.14">83</text>
<text x="372" y="73.25" font-size="6.15" fill="#f59a9a" text-anchor="end" textLength="6.39" lengthAdjust="spacingAndGlyphs" stroke="#f59a9a" stroke-width="0.14">40</text>
<text x="420.9" y="78.2" font-size="6.15" fill="#000" text-anchor="end" textLength="9.59" lengthAdjust="spacingAndGlyphs" stroke="#000" stroke-width="0.14">100</text>
<text x="420.9" y="83.25" font-size="6.15" fill="#f00000" text-anchor="end" textLength="6.39" lengthAdjust="spacingAndGlyphs" stroke="#f00000" stroke-width="0.14">99</text>
<text x="327.6" y="67.2" font-size="6.15" fill="#000" text-anchor="end" textLength="9.59" lengthAdjust="spacingAndGlyphs" stroke="#000" stroke-width="0.14">100</text>
<text x="327.6" y="72.25" font-size="6.15" fill="#f00000" text-anchor="end" textLength="9.59" lengthAdjust="spacingAndGlyphs" stroke="#f00000" stroke-width="0.14">100</text>
<text x="343.2" y="84.2" font-size="6.15" fill="#8c8c8c" text-anchor="end" textLength="6.39" lengthAdjust="spacingAndGlyphs" stroke="#8c8c8c" stroke-width="0.14">33</text>
<text x="343.2" y="89.25" font-size="6.15" fill="#f59a9a" text-anchor="end" textLength="6.39" lengthAdjust="spacingAndGlyphs" stroke="#f59a9a" stroke-width="0.14">49</text>
<text x="358" y="88.2" font-size="6.15" fill="#8c8c8c" text-anchor="end" textLength="6.39" lengthAdjust="spacingAndGlyphs" stroke="#8c8c8c" stroke-width="0.14">44</text>
<text x="358" y="93.25" font-size="6.15" fill="#f59a9a" text-anchor="end" textLength="6.39" lengthAdjust="spacingAndGlyphs" stroke="#f59a9a" stroke-width="0.14">49</text>
<text x="336" y="96.2" font-size="6.15" fill="#8c8c8c" text-anchor="end" textLength="6.39" lengthAdjust="spacingAndGlyphs" stroke="#8c8c8c" stroke-width="0.14">38</text>
<text x="336" y="101.25" font-size="6.15" fill="#f59a9a" text-anchor="end" textLength="6.39" lengthAdjust="spacingAndGlyphs" stroke="#f59a9a" stroke-width="0.14">50</text>
<text x="335.3" y="108.2" font-size="6.15" fill="#8c8c8c" text-anchor="end" textLength="6.39" lengthAdjust="spacingAndGlyphs" stroke="#8c8c8c" stroke-width="0.14">65</text>
<text x="335.3" y="113.25" font-size="6.15" fill="#f59a9a" text-anchor="end" textLength="6.39" lengthAdjust="spacingAndGlyphs" stroke="#f59a9a" stroke-width="0.14">64</text>
<text x="352.2" y="109.2" font-size="6.15" fill="#000" text-anchor="end" textLength="6.39" lengthAdjust="spacingAndGlyphs" stroke="#000" stroke-width="0.14">90</text>
<text x="352.2" y="114.25" font-size="6.15" fill="#f00000" text-anchor="end" textLength="6.39" lengthAdjust="spacingAndGlyphs" stroke="#f00000" stroke-width="0.14">88</text>
<text x="343.6" y="119.2" font-size="6.15" fill="#000" text-anchor="end" textLength="6.39" lengthAdjust="spacingAndGlyphs" stroke="#000" stroke-width="0.14">94</text>
<text x="343.6" y="124.25" font-size="6.15" fill="#f00000" text-anchor="end" textLength="6.39" lengthAdjust="spacingAndGlyphs" stroke="#f00000" stroke-width="0.14">88</text>
<text x="310.4" y="98.2" font-size="6.15" fill="#000" text-anchor="end" textLength="6.39" lengthAdjust="spacingAndGlyphs" stroke="#000" stroke-width="0.14">81</text>
<text x="310.4" y="103.25" font-size="6.15" fill="#f00000" text-anchor="end" textLength="6.39" lengthAdjust="spacingAndGlyphs" stroke="#f00000" stroke-width="0.14">76</text>
<text x="303.3" y="118.2" font-size="6.15" fill="#000" text-anchor="end" textLength="6.39" lengthAdjust="spacingAndGlyphs" stroke="#000" stroke-width="0.14">97</text>
<text x="303.3" y="123.25" font-size="6.15" fill="#f00000" text-anchor="end" textLength="6.39" lengthAdjust="spacingAndGlyphs" stroke="#f00000" stroke-width="0.14">60</text>
<text x="359.3" y="129.2" font-size="6.15" fill="#000" text-anchor="end" textLength="9.59" lengthAdjust="spacingAndGlyphs" stroke="#000" stroke-width="0.14">100</text>
<text x="359.3" y="134.25" font-size="6.15" fill="#f00000" text-anchor="end" textLength="9.59" lengthAdjust="spacingAndGlyphs" stroke="#f00000" stroke-width="0.14">100</text>
<text x="298.4" y="134.2" font-size="6.15" fill="#8c8c8c" text-anchor="end" textLength="6.39" lengthAdjust="spacingAndGlyphs" stroke="#8c8c8c" stroke-width="0.14">45</text>
<text x="368" y="140.2" font-size="6.15" fill="#000" text-anchor="end" textLength="9.59" lengthAdjust="spacingAndGlyphs" stroke="#000" stroke-width="0.14">100</text>
<text x="368" y="145.25" font-size="6.15" fill="#f00000" text-anchor="end" textLength="9.59" lengthAdjust="spacingAndGlyphs" stroke="#f00000" stroke-width="0.14">100</text>
<text x="307.6" y="149.2" font-size="6.15" fill="#8c8c8c" text-anchor="end" textLength="6.39" lengthAdjust="spacingAndGlyphs" stroke="#8c8c8c" stroke-width="0.14">68</text>
<text x="307.6" y="154.25" font-size="6.15" fill="#f00000" text-anchor="end" textLength="6.39" lengthAdjust="spacingAndGlyphs" stroke="#f00000" stroke-width="0.14">82</text>
<text x="293.9" y="179.2" font-size="6.15" fill="#000" text-anchor="end" textLength="6.39" lengthAdjust="spacingAndGlyphs" stroke="#000" stroke-width="0.14">84</text>
<text x="326" y="169.2" font-size="6.15" fill="#8c8c8c" text-anchor="end" textLength="6.39" lengthAdjust="spacingAndGlyphs" stroke="#8c8c8c" stroke-width="0.14">63</text>
<text x="326" y="174.25" font-size="6.15" fill="#f59a9a" text-anchor="end" textLength="6.39" lengthAdjust="spacingAndGlyphs" stroke="#f59a9a" stroke-width="0.14">67</text>
<text x="339.4" y="178.2" font-size="6.15" fill="#8c8c8c" text-anchor="end" textLength="6.39" lengthAdjust="spacingAndGlyphs" stroke="#8c8c8c" stroke-width="0.14">61</text>
<text x="339.4" y="183.25" font-size="6.15" fill="#f59a9a" text-anchor="end" textLength="6.39" lengthAdjust="spacingAndGlyphs" stroke="#f59a9a" stroke-width="0.14">60</text>
<text x="355.4" y="185.2" font-size="6.15" fill="#8c8c8c" text-anchor="end" textLength="6.39" lengthAdjust="spacingAndGlyphs" stroke="#8c8c8c" stroke-width="0.14">70</text>
<text x="355.4" y="190.25" font-size="6.15" fill="#f59a9a" text-anchor="end" textLength="6.39" lengthAdjust="spacingAndGlyphs" stroke="#f59a9a" stroke-width="0.14">68</text>
<text x="369.2" y="181.2" font-size="6.15" fill="#000" text-anchor="end" textLength="6.39" lengthAdjust="spacingAndGlyphs" stroke="#000" stroke-width="0.14">95</text>
<text x="369.2" y="186.25" font-size="6.15" fill="#f00000" text-anchor="end" textLength="6.39" lengthAdjust="spacingAndGlyphs" stroke="#f00000" stroke-width="0.14">98</text>
<text x="407.4" y="191.2" font-size="6.15" fill="#000" text-anchor="end" textLength="9.59" lengthAdjust="spacingAndGlyphs" stroke="#000" stroke-width="0.14">100</text>
<text x="407.4" y="196.25" font-size="6.15" fill="#f00000" text-anchor="end" textLength="9.59" lengthAdjust="spacingAndGlyphs" stroke="#f00000" stroke-width="0.14">100</text>
<text x="301.8" y="195.2" font-size="6.15" fill="#8c8c8c" text-anchor="end" textLength="6.39" lengthAdjust="spacingAndGlyphs" stroke="#8c8c8c" stroke-width="0.14">57</text>
<text x="301.8" y="200.25" font-size="6.15" fill="#f00000" text-anchor="end" textLength="9.59" lengthAdjust="spacingAndGlyphs" stroke="#f00000" stroke-width="0.14">100</text>
<text x="294.4" y="223.2" font-size="6.15" fill="#8c8c8c" text-anchor="end" textLength="6.39" lengthAdjust="spacingAndGlyphs" stroke="#8c8c8c" stroke-width="0.14">39</text>
<text x="340.4" y="222.2" font-size="6.15" fill="#8c8c8c" text-anchor="end" textLength="6.39" lengthAdjust="spacingAndGlyphs" stroke="#8c8c8c" stroke-width="0.14">72</text>
<text x="340.4" y="227.25" font-size="6.15" fill="#f59a9a" text-anchor="end" textLength="6.39" lengthAdjust="spacingAndGlyphs" stroke="#f59a9a" stroke-width="0.14">66</text>
<text x="371" y="208.2" font-size="6.15" fill="#000" text-anchor="end" textLength="6.39" lengthAdjust="spacingAndGlyphs" stroke="#000" stroke-width="0.14">85</text>
<text x="371" y="213.25" font-size="6.15" fill="#f59a9a" text-anchor="end" textLength="6.39" lengthAdjust="spacingAndGlyphs" stroke="#f59a9a" stroke-width="0.14">40</text>
<text x="396.2" y="201.2" font-size="6.15" fill="#000" text-anchor="end" textLength="6.39" lengthAdjust="spacingAndGlyphs" stroke="#000" stroke-width="0.14">99</text>
<text x="396.2" y="206.25" font-size="6.15" fill="#f00000" text-anchor="end" textLength="6.39" lengthAdjust="spacingAndGlyphs" stroke="#f00000" stroke-width="0.14">97</text>
<text x="403" y="211.2" font-size="6.15" fill="#000" text-anchor="end" textLength="6.39" lengthAdjust="spacingAndGlyphs" stroke="#000" stroke-width="0.14">94</text>
<text x="403" y="216.25" font-size="6.15" fill="#f00000" text-anchor="end" textLength="6.39" lengthAdjust="spacingAndGlyphs" stroke="#f00000" stroke-width="0.14">99</text>
<text x="378.2" y="216.2" font-size="6.15" fill="#8c8c8c" text-anchor="end" textLength="6.39" lengthAdjust="spacingAndGlyphs" stroke="#8c8c8c" stroke-width="0.14">13</text>
<text x="378.2" y="221.25" font-size="6.15" fill="#f59a9a" text-anchor="end" textLength="6.39" lengthAdjust="spacingAndGlyphs" stroke="#f59a9a" stroke-width="0.14">19</text>
<text x="349.5" y="236.2" font-size="6.15" fill="#8c8c8c" text-anchor="end" textLength="6.39" lengthAdjust="spacingAndGlyphs" stroke="#8c8c8c" stroke-width="0.14">81</text>
<text x="349.5" y="241.25" font-size="6.15" fill="#f59a9a" text-anchor="end" textLength="6.39" lengthAdjust="spacingAndGlyphs" stroke="#f59a9a" stroke-width="0.14">48</text>
<text x="394.2" y="232.2" font-size="6.15" fill="#000" text-anchor="end" textLength="6.39" lengthAdjust="spacingAndGlyphs" stroke="#000" stroke-width="0.14">98</text>
<text x="394.2" y="237.25" font-size="6.15" fill="#f00000" text-anchor="end" textLength="6.39" lengthAdjust="spacingAndGlyphs" stroke="#f00000" stroke-width="0.14">96</text>
<text x="327.1" y="252.2" font-size="6.15" fill="#000" text-anchor="end" textLength="6.39" lengthAdjust="spacingAndGlyphs" stroke="#000" stroke-width="0.14">99</text>
<text x="327.1" y="257.25" font-size="6.15" fill="#f00000" text-anchor="end" textLength="6.39" lengthAdjust="spacingAndGlyphs" stroke="#f00000" stroke-width="0.14">99</text>
<text x="328.3" y="293.2" font-size="6.15" fill="#000" text-anchor="end" textLength="9.59" lengthAdjust="spacingAndGlyphs" stroke="#000" stroke-width="0.14">100</text>
<text x="328.3" y="298.25" font-size="6.15" fill="#f00000" text-anchor="end" textLength="9.59" lengthAdjust="spacingAndGlyphs" stroke="#f00000" stroke-width="0.14">100</text>
<text x="344.2" y="284.2" font-size="6.15" fill="#000" text-anchor="end" textLength="6.39" lengthAdjust="spacingAndGlyphs" stroke="#000" stroke-width="0.14">87</text>
<text x="344.2" y="289.25" font-size="6.15" fill="#f00000" text-anchor="end" textLength="6.39" lengthAdjust="spacingAndGlyphs" stroke="#f00000" stroke-width="0.14">91</text>
<text x="350" y="275.2" font-size="6.15" fill="#8c8c8c" text-anchor="end" textLength="6.39" lengthAdjust="spacingAndGlyphs" stroke="#8c8c8c" stroke-width="0.14">48</text>
<text x="350" y="280.25" font-size="6.15" fill="#f59a9a" text-anchor="end" textLength="6.39" lengthAdjust="spacingAndGlyphs" stroke="#f59a9a" stroke-width="0.14">46</text>
<text x="363.3" y="267.2" font-size="6.15" fill="#8c8c8c" text-anchor="end" textLength="6.39" lengthAdjust="spacingAndGlyphs" stroke="#8c8c8c" stroke-width="0.14">50</text>
<text x="363.3" y="272.25" font-size="6.15" fill="#f59a9a" text-anchor="end" textLength="6.39" lengthAdjust="spacingAndGlyphs" stroke="#f59a9a" stroke-width="0.14">50</text>
<text x="371.2" y="262.2" font-size="6.15" fill="#8c8c8c" text-anchor="end" textLength="6.39" lengthAdjust="spacingAndGlyphs" stroke="#8c8c8c" stroke-width="0.14">38</text>
<text x="371.2" y="267.25" font-size="6.15" fill="#f59a9a" text-anchor="end" textLength="6.39" lengthAdjust="spacingAndGlyphs" stroke="#f59a9a" stroke-width="0.14">55</text>
<text x="379.6" y="273.2" font-size="6.15" fill="#8c8c8c" text-anchor="end" textLength="6.39" lengthAdjust="spacingAndGlyphs" stroke="#8c8c8c" stroke-width="0.14">88</text>
<text x="379.6" y="278.25" font-size="6.15" fill="#f59a9a" text-anchor="end" textLength="6.39" lengthAdjust="spacingAndGlyphs" stroke="#f59a9a" stroke-width="0.14">55</text>
<text x="392.2" y="293.2" font-size="6.15" fill="#000" text-anchor="end" textLength="6.39" lengthAdjust="spacingAndGlyphs" stroke="#000" stroke-width="0.14">81</text>
<text x="392.2" y="298.25" font-size="6.15" fill="#f00000" text-anchor="end" textLength="6.39" lengthAdjust="spacingAndGlyphs" stroke="#f00000" stroke-width="0.14">78</text>
<text x="395.1" y="303.2" font-size="6.15" fill="#000" text-anchor="end" textLength="6.39" lengthAdjust="spacingAndGlyphs" stroke="#000" stroke-width="0.14">96</text>
<text x="395.1" y="308.25" font-size="6.15" fill="#f00000" text-anchor="end" textLength="6.39" lengthAdjust="spacingAndGlyphs" stroke="#f00000" stroke-width="0.14">98</text>
<text x="365.9" y="318.2" font-size="6.15" fill="#000" text-anchor="end" textLength="9.59" lengthAdjust="spacingAndGlyphs" stroke="#000" stroke-width="0.14">100</text>
<text x="365.9" y="323.25" font-size="6.15" fill="#f00000" text-anchor="end" textLength="9.59" lengthAdjust="spacingAndGlyphs" stroke="#f00000" stroke-width="0.14">100</text>
<text x="376.5" y="313.2" font-size="6.15" fill="#000" text-anchor="end" textLength="6.39" lengthAdjust="spacingAndGlyphs" stroke="#000" stroke-width="0.14">87</text>
<text x="376.5" y="318.25" font-size="6.15" fill="#f00000" text-anchor="end" textLength="6.39" lengthAdjust="spacingAndGlyphs" stroke="#f00000" stroke-width="0.14">87</text>
<text x="379.2" y="323.2" font-size="6.15" fill="#8c8c8c" text-anchor="end" textLength="6.39" lengthAdjust="spacingAndGlyphs" stroke="#8c8c8c" stroke-width="0.14">67</text>
<text x="379.2" y="328.25" font-size="6.15" fill="#f00000" text-anchor="end" textLength="6.39" lengthAdjust="spacingAndGlyphs" stroke="#f00000" stroke-width="0.14">64</text>
<text x="351" y="326.2" font-size="6.15" fill="#000" text-anchor="end" textLength="9.59" lengthAdjust="spacingAndGlyphs" stroke="#000" stroke-width="0.14">100</text>
<text x="351" y="331.25" font-size="6.15" fill="#f00000" text-anchor="end" textLength="9.59" lengthAdjust="spacingAndGlyphs" stroke="#f00000" stroke-width="0.14">100</text>
<text x="360.6" y="333.2" font-size="6.15" fill="#000" text-anchor="end" textLength="6.39" lengthAdjust="spacingAndGlyphs" stroke="#000" stroke-width="0.14">87</text>
<text x="360.6" y="338.25" font-size="6.15" fill="#f00000" text-anchor="end" textLength="6.39" lengthAdjust="spacingAndGlyphs" stroke="#f00000" stroke-width="0.14">89</text>
<text x="325.2" y="335.2" font-size="6.15" fill="#444" text-anchor="end" textLength="6.39" lengthAdjust="spacingAndGlyphs" stroke="#444" stroke-width="0.14">86</text>
<text x="325.2" y="340.25" font-size="6.15" fill="#f00000" text-anchor="end" textLength="6.39" lengthAdjust="spacingAndGlyphs" stroke="#f00000" stroke-width="0.14">92</text>
<text x="308.2" y="326.2" font-size="6.15" fill="#8c8c8c" text-anchor="end" textLength="6.39" lengthAdjust="spacingAndGlyphs" stroke="#8c8c8c" stroke-width="0.14">44</text>
<text x="308.2" y="331.25" font-size="6.15" fill="#f59a9a" text-anchor="end" textLength="6.39" lengthAdjust="spacingAndGlyphs" stroke="#f59a9a" stroke-width="0.14">36</text>
<text x="316.5" y="347.2" font-size="6.15" fill="#8c8c8c" text-anchor="end" textLength="6.39" lengthAdjust="spacingAndGlyphs" stroke="#8c8c8c" stroke-width="0.14">54</text>
<text x="316.5" y="352.25" font-size="6.15" fill="#f00000" text-anchor="end" textLength="6.39" lengthAdjust="spacingAndGlyphs" stroke="#f00000" stroke-width="0.14">74</text>
<text x="323.5" y="360.2" font-size="6.15" fill="#8c8c8c" text-anchor="end" textLength="6.39" lengthAdjust="spacingAndGlyphs" stroke="#8c8c8c" stroke-width="0.14">88</text>
<text x="323.5" y="365.25" font-size="6.15" fill="#f00000" text-anchor="end" textLength="6.39" lengthAdjust="spacingAndGlyphs" stroke="#f00000" stroke-width="0.14">88</text>
<text x="308.2" y="361.2" font-size="6.15" fill="#8c8c8c" text-anchor="end" textLength="6.39" lengthAdjust="spacingAndGlyphs" stroke="#8c8c8c" stroke-width="0.14">47</text>
<text x="308.2" y="366.25" font-size="6.15" fill="#f59a9a" text-anchor="end" textLength="6.39" lengthAdjust="spacingAndGlyphs" stroke="#f59a9a" stroke-width="0.14">31</text>
<text x="412.1" y="344.2" font-size="6.15" fill="#000" text-anchor="end" textLength="9.59" lengthAdjust="spacingAndGlyphs" stroke="#000" stroke-width="0.14">100</text>
<text x="412.1" y="349.25" font-size="6.15" fill="#f00000" text-anchor="end" textLength="9.59" lengthAdjust="spacingAndGlyphs" stroke="#f00000" stroke-width="0.14">100</text>
<text x="379.8" y="354.2" font-size="6.15" fill="#000" text-anchor="end" textLength="9.59" lengthAdjust="spacingAndGlyphs" stroke="#000" stroke-width="0.14">100</text>
<text x="379.8" y="359.25" font-size="6.15" fill="#f00000" text-anchor="end" textLength="9.59" lengthAdjust="spacingAndGlyphs" stroke="#f00000" stroke-width="0.14">100</text>
<text x="343.6" y="365.2" font-size="6.15" fill="#000" text-anchor="end" textLength="6.39" lengthAdjust="spacingAndGlyphs" stroke="#000" stroke-width="0.14">94</text>
<text x="343.6" y="370.25" font-size="6.15" fill="#f00000" text-anchor="end" textLength="6.39" lengthAdjust="spacingAndGlyphs" stroke="#f00000" stroke-width="0.14">99</text>
<text x="386.1" y="375.2" font-size="6.15" fill="#000" text-anchor="end" textLength="9.59" lengthAdjust="spacingAndGlyphs" stroke="#000" stroke-width="0.14">100</text>
<text x="386.1" y="380.25" font-size="6.15" fill="#f00000" text-anchor="end" textLength="9.59" lengthAdjust="spacingAndGlyphs" stroke="#f00000" stroke-width="0.14">100</text>
<text x="304" y="356.2" font-size="6.15" fill="#000" text-anchor="end" textLength="6.39" lengthAdjust="spacingAndGlyphs" stroke="#000" stroke-width="0.14">71</text>
<text x="291.7" y="359.2" font-size="6.15" fill="#000" text-anchor="end" textLength="6.39" lengthAdjust="spacingAndGlyphs" stroke="#000" stroke-width="0.14">92</text>
<text x="293.1" y="387.2" font-size="6.15" fill="#000" text-anchor="end" textLength="6.39" lengthAdjust="spacingAndGlyphs" stroke="#000" stroke-width="0.14">73</text>
<text x="312.9" y="395.2" font-size="6.15" fill="#000" text-anchor="end" textLength="6.39" lengthAdjust="spacingAndGlyphs" stroke="#000" stroke-width="0.14">98</text>
<text x="305.9" y="400.2" font-size="6.15" fill="#000" text-anchor="end" textLength="6.39" lengthAdjust="spacingAndGlyphs" stroke="#000" stroke-width="0.14">74</text>
<text x="302.9" y="408.2" font-size="6.15" fill="#000" text-anchor="end" textLength="6.39" lengthAdjust="spacingAndGlyphs" stroke="#000" stroke-width="0.14">91</text>
<text x="299.7" y="417.2" font-size="6.15" fill="#000" text-anchor="end" textLength="6.39" lengthAdjust="spacingAndGlyphs" stroke="#000" stroke-width="0.14">82</text>
<text x="366.5" y="426.2" font-size="6.15" fill="#000" text-anchor="end" textLength="9.59" lengthAdjust="spacingAndGlyphs" stroke="#000" stroke-width="0.14">100</text>
<text x="423.6" y="406.2" font-size="6.15" fill="#000" text-anchor="end" textLength="9.59" lengthAdjust="spacingAndGlyphs" stroke="#000" stroke-width="0.14">100</text>
<text x="297" y="446.2" font-size="6.15" fill="#000" text-anchor="end" textLength="9.59" lengthAdjust="spacingAndGlyphs" stroke="#000" stroke-width="0.14">100</text>
<text x="440.5" y="34.6" font-size="7.65" fill="#000">Polycipiviridae</text>
<text x="440.5" y="50.5" font-size="7.65" fill="#000">Sacoviridae</text>
<text x="440.5" y="60.7" font-size="7.65" fill="#000">Dicistroviridae</text>
<text x="440.5" y="75.6" font-size="7.65" fill="#000">Iflaviridae</text>
<text x="440.5" y="91.2" font-size="7.65" fill="#000">Picornaviridae</text>
<text x="440.5" y="101.4" font-size="7.65" fill="#000">Marnaviridae</text>
<text x="440.5" y="111.9" font-size="7.65" fill="#000">Solinviviridae</text>
<text x="440.5" y="122.1" font-size="7.65" fill="#000">Caliciviridae</text>
<text x="440.5" y="131.5" font-size="7.65" fill="#000">Potyviridae</text>
<text x="440.5" y="142.9" font-size="7.65" fill="#000">Astroviridae</text>
<text x="440.5" y="152.8" font-size="7.65" fill="#000">Flaviviridae</text>
<text x="440.5" y="162.8" font-size="7.65" fill="#000">Carmotetraviridae</text>
<text x="440.5" y="178.6" font-size="7.65" fill="#000">Tombusviridae</text>
<text x="440.5" y="204" font-size="7.65" fill="#000">Luteoviridae</text>
<text x="440.5" y="229.3" font-size="7.65" fill="#000">Sobemoviridae</text>
<text x="440.5" y="244.7" font-size="7.65" fill="#000">Barnaviridae</text>
<text x="440.5" y="254.9" font-size="7.65" fill="#000">Nodaviridae</text>
<text x="440.5" y="264.8" font-size="7.65" fill="#000">Betaflexiviridae</text>
<text x="440.5" y="275.2" font-size="7.65" fill="#000">Alphaflexiviridae</text>
<text x="440.5" y="285.5" font-size="7.65" fill="#000">Gammaflexiviridae</text>
<text x="440.5" y="295" font-size="7.65" fill="#000">Tymoviridae</text>
<text x="440.5" y="306.2" font-size="7.65" fill="#000">Deltaflexiviridae</text>
<text x="440.5" y="315.7" font-size="7.65" fill="#000">Virgaviridae</text>
<text x="440.5" y="326.7" font-size="7.65" fill="#000">Bromoviridae</text>
<text x="440.5" y="337.1" font-size="7.65" fill="#000">Closteroviridae</text>
<text x="440.5" y="346.4" font-size="7.65" fill="#000">Togaviridae</text>
<text x="440.5" y="356.9" font-size="7.65" fill="#000">Hepeviridae</text>
<text x="440.5" y="367.1" font-size="7.65" fill="#000">Alphatetraviridae</text>
<text x="440.5" y="377.4" font-size="7.65" fill="#000">Benyviridae</text>
<text x="440.5" y="388.4" font-size="7.65" fill="#000">Rubiviridae</text>
<text x="440.5" y="397.8" font-size="7.65" fill="#000">Coronaviridae</text>
<text x="440.5" y="409.1" font-size="7.65" fill="#000">Mesoniviridae</text>
<text x="440.5" y="419" font-size="7.65" fill="#000">Roniviridae</text>
<text x="440.5" y="429.1" font-size="7.65" fill="#000">Arteriviridae</text>
<text x="440.5" y="439.7" font-size="7.65" fill="#000">Permutotetraviridae</text>
<text x="440.5" y="450.1" font-size="7.65" fill="#000">Narnaviridae</text>
<line x1="441.4" y1="24.6" x2="449.8" y2="24.6" stroke="#a4a4a4" stroke-width="1"/>
<line x1="445.6" y1="24.6" x2="445.6" y2="27.2" stroke="#a4a4a4" stroke-width="0.9"/>
<line x1="441.4" y1="39.9" x2="449.8" y2="39.9" stroke="#a4a4a4" stroke-width="1"/>
<line x1="445.6" y1="37.3" x2="445.6" y2="39.9" stroke="#a4a4a4" stroke-width="0.9"/>
<line x1="441.4" y1="65.9" x2="449.8" y2="65.9" stroke="#a4a4a4" stroke-width="1"/>
<line x1="445.6" y1="65.9" x2="445.6" y2="68.5" stroke="#a4a4a4" stroke-width="0.9"/>
<line x1="441.4" y1="80.8" x2="449.8" y2="80.8" stroke="#a4a4a4" stroke-width="1"/>
<line x1="445.6" y1="78.2" x2="445.6" y2="80.8" stroke="#a4a4a4" stroke-width="0.9"/>
<line x1="441.4" y1="168.4" x2="449.8" y2="168.4" stroke="#a4a4a4" stroke-width="1"/>
<line x1="445.6" y1="168.4" x2="445.6" y2="171" stroke="#a4a4a4" stroke-width="0.9"/>
<line x1="441.4" y1="183.2" x2="449.8" y2="183.2" stroke="#a4a4a4" stroke-width="1"/>
<line x1="445.6" y1="180.6" x2="445.6" y2="183.2" stroke="#a4a4a4" stroke-width="0.9"/>
<line x1="441.4" y1="188.5" x2="449.8" y2="188.5" stroke="#a4a4a4" stroke-width="1"/>
<line x1="445.6" y1="188.5" x2="445.6" y2="195.7" stroke="#a4a4a4" stroke-width="1.3"/>
<line x1="441.4" y1="214" x2="449.8" y2="214" stroke="#a4a4a4" stroke-width="1"/>
<line x1="445.6" y1="206.8" x2="445.6" y2="214" stroke="#a4a4a4" stroke-width="1.3"/>
<line x1="441.4" y1="219.4" x2="449.8" y2="219.4" stroke="#a4a4a4" stroke-width="1"/>
<line x1="445.6" y1="219.4" x2="445.6" y2="222" stroke="#a4a4a4" stroke-width="0.9"/>
<line x1="441.4" y1="234.2" x2="449.8" y2="234.2" stroke="#a4a4a4" stroke-width="1"/>
<line x1="445.6" y1="231.6" x2="445.6" y2="234.2" stroke="#a4a4a4" stroke-width="0.9"/>
<line x1="501.6" y1="25.2" x2="509.8" y2="25.2" stroke="#555" stroke-width="0.9"/>
<line x1="501.6" y1="103.3" x2="509.8" y2="103.3" stroke="#555" stroke-width="0.9"/>
<line x1="505.7" y1="25.2" x2="505.7" y2="103.3" stroke="#555" stroke-width="0.9"/>
<text x="509.3" y="66.6" font-size="7.65" fill="#000">Picornavirales</text>
<line x1="501.6" y1="259.4" x2="509.8" y2="259.4" stroke="#555" stroke-width="0.9"/>
<line x1="501.6" y1="305.9" x2="509.8" y2="305.9" stroke="#555" stroke-width="0.9"/>
<line x1="505.7" y1="259.4" x2="505.7" y2="305.9" stroke="#555" stroke-width="0.9"/>
<text x="509.1" y="284.6" font-size="7.65" fill="#000">Tymovirales</text>
<line x1="501.6" y1="393.3" x2="509.8" y2="393.3" stroke="#555" stroke-width="0.9"/>
<line x1="501.6" y1="429.1" x2="509.8" y2="429.1" stroke="#555" stroke-width="0.9"/>
<line x1="505.7" y1="393.3" x2="505.7" y2="429.1" stroke="#555" stroke-width="0.9"/>
<text x="509.1" y="413.7" font-size="7.65" fill="#000">Nidovirales</text>
</g>
<g id="g5">
<text x="423" y="476.8" font-size="12.5" fill="#000" text-anchor="middle">Group V: (-)ssRNA viruses</text>
<line x1="318.5" y1="487.5" x2="437.5" y2="487.5" stroke="#2a2a2a" stroke-width="0.8" stroke-dasharray="1.7 0.75"/>
<line x1="318.5" y1="604.5" x2="437.5" y2="604.5" stroke="#2a2a2a" stroke-width="0.8" stroke-dasharray="1.7 0.75"/>
<line x1="318.5" y1="487.5" x2="318.5" y2="604.5" stroke="#8e8e8e" stroke-width="1" stroke-dasharray="1.4 1.05"/>
<line x1="437.5" y1="487.5" x2="437.5" y2="604.5" stroke="#2a2a2a" stroke-width="0.8" stroke-dasharray="1.7 0.75"/>
<line x1="284.5" y1="659.5" x2="437.5" y2="659.5" stroke="#2a2a2a" stroke-width="0.8" stroke-dasharray="1.7 0.75"/>
<line x1="284.5" y1="770.5" x2="437.5" y2="770.5" stroke="#2a2a2a" stroke-width="0.8" stroke-dasharray="1.7 0.75"/>
<line x1="284.5" y1="659.5" x2="284.5" y2="770.5" stroke="#8e8e8e" stroke-width="1" stroke-dasharray="1.4 1.05"/>
<line x1="437.5" y1="659.5" x2="437.5" y2="770.5" stroke="#2a2a2a" stroke-width="0.8" stroke-dasharray="1.7 0.75"/>
<polygon points="405.3,495.5 433.3,489.8 433.3,500.4" fill="#fff" stroke="#000" stroke-width="0.6" stroke-linejoin="miter"/>
<line x1="433.3" y1="489.8" x2="433.3" y2="500.4" stroke="#000" stroke-width="1.1"/>
<polygon points="425.9,505.5 433.3,500.4 433.3,510.4" fill="url(#st)" stroke="#858585" stroke-width="0.7"/>
<polygon points="391.5,516.5 433.3,510.4 433.3,521" fill="#fff" stroke="#000" stroke-width="0.6" stroke-linejoin="miter"/>
<line x1="433.3" y1="510.4" x2="433.3" y2="521" stroke="#000" stroke-width="1.1"/>
<polygon points="373,527.5 433.3,521 433.3,531.6" fill="url(#st)" stroke="#858585" stroke-width="0.7"/>
<polygon points="379,536.5 433.3,531.6 433.3,541.5" fill="#fff" stroke="#000" stroke-width="0.6" stroke-linejoin="miter"/>
<line x1="433.3" y1="531.6" x2="433.3" y2="541.5" stroke="#000" stroke-width="1.1"/>
<polygon points="372,547.5 433.3,541.5 433.3,552.8" fill="url(#st)" stroke="#858585" stroke-width="0.7"/>
<polygon points="351,557.5 433.3,552.8 433.3,562.7" fill="#fff" stroke="#000" stroke-width="0.6" stroke-linejoin="miter"/>
<line x1="433.3" y1="552.8" x2="433.3" y2="562.7" stroke="#000" stroke-width="1.1"/>
<polygon points="387,568.5 433.3,562.7 433.3,572.8" fill="url(#st)" stroke="#858585" stroke-width="0.7"/>
<polygon points="402.5,578.5 433.3,572.8 433.3,582.9" fill="#fff" stroke="#000" stroke-width="0.6" stroke-linejoin="miter"/>
<line x1="433.3" y1="572.8" x2="433.3" y2="582.9" stroke="#000" stroke-width="1.1"/>
<polygon points="350,598.5 433.3,593.9 433.3,603.5" fill="#fff" stroke="#000" stroke-width="0.6" stroke-linejoin="miter"/>
<line x1="433.3" y1="593.9" x2="433.3" y2="603.5" stroke="#000" stroke-width="1.1"/>
<polygon points="395.5,609.5 433.3,603.5 433.3,614.1" fill="url(#st)" stroke="#858585" stroke-width="0.7"/>
<polygon points="349,619.5 433.3,614.1 433.3,624.7" fill="#fff" stroke="#000" stroke-width="0.6" stroke-linejoin="miter"/>
<line x1="433.3" y1="614.1" x2="433.3" y2="624.7" stroke="#000" stroke-width="1.1"/>
<polygon points="340,630.5 433.3,624.7 433.3,635.7" fill="url(#st)" stroke="#858585" stroke-width="0.7"/>
<polygon points="309.7,651.5 433.3,645.9 433.3,656.5" fill="url(#st)" stroke="#858585" stroke-width="0.7"/>
<polygon points="372.5,672.5 433.3,667.1 433.3,677.7" fill="url(#st)" stroke="#858585" stroke-width="0.7"/>
<polygon points="411,682.5 433.3,677.7 433.3,687.7" fill="#fff" stroke="#000" stroke-width="0.6" stroke-linejoin="miter"/>
<line x1="433.3" y1="677.7" x2="433.3" y2="687.7" stroke="#000" stroke-width="1.1"/>
<polygon points="375,693.5 433.3,687.7 433.3,698.3" fill="url(#st)" stroke="#858585" stroke-width="0.7"/>
<polygon points="419,703.5 433.3,698.3 433.3,708.9" fill="#fff" stroke="#000" stroke-width="0.6" stroke-linejoin="miter"/>
<line x1="433.3" y1="698.3" x2="433.3" y2="708.9" stroke="#000" stroke-width="1.1"/>
<polygon points="326,713.5 433.3,708.9 433.3,719.5" fill="url(#st)" stroke="#858585" stroke-width="0.7"/>
<polygon points="347.8,724.5 433.3,719.5 433.3,729.8" fill="#fff" stroke="#000" stroke-width="0.6" stroke-linejoin="miter"/>
<line x1="433.3" y1="719.5" x2="433.3" y2="729.8" stroke="#000" stroke-width="1.1"/>
<polygon points="344,735.5 433.3,729.8 433.3,740" fill="url(#st)" stroke="#858585" stroke-width="0.7"/>
<polygon points="342,755.5 433.3,749.9 433.3,760.9" fill="url(#st)" stroke="#858585" stroke-width="0.7"/>
<line x1="333.5" y1="495.5" x2="333.5" y2="563.5" stroke="#000" stroke-width="1" stroke-linecap="square"/>
<line x1="333.5" y1="563.5" x2="333.5" y2="598.5" stroke="#000" stroke-width="1.64" stroke-linecap="square"/>
<line x1="333.5" y1="495.5" x2="405.5" y2="495.5" stroke="#000" stroke-width="1.23" stroke-linecap="square"/>
<line x1="305.5" y1="538.5" x2="333.5" y2="538.5" stroke="#000" stroke-width="1" stroke-linecap="square"/>
<line x1="305.5" y1="538.5" x2="305.5" y2="574.5" stroke="#000" stroke-width="1" stroke-linecap="square"/>
<line x1="305.5" y1="574.5" x2="305.5" y2="609.5" stroke="#9a9a9a" stroke-width="1" stroke-linecap="square"/>
<line x1="305.5" y1="609.5" x2="395.5" y2="609.5" stroke="#9a9a9a" stroke-width="1" stroke-linecap="square"/>
<line x1="297.5" y1="574.5" x2="305.5" y2="574.5" stroke="#000" stroke-width="1" stroke-linecap="square"/>
<line x1="297.5" y1="574.5" x2="297.5" y2="619.5" stroke="#000" stroke-width="1" stroke-linecap="square"/>
<line x1="297.5" y1="619.5" x2="349.5" y2="619.5" stroke="#000" stroke-width="1" stroke-linecap="square"/>
<line x1="295.5" y1="597.5" x2="297.5" y2="597.5" stroke="#000" stroke-width="1" stroke-linecap="square"/>
<line x1="295.5" y1="597.5" x2="295.5" y2="630.5" stroke="#444" stroke-width="1" stroke-linecap="square"/>
<line x1="295.5" y1="630.5" x2="340.5" y2="630.5" stroke="#9a9a9a" stroke-width="1" stroke-linecap="square"/>
<line x1="291.5" y1="613.5" x2="295.5" y2="613.5" stroke="#000" stroke-width="1" stroke-linecap="square"/>
<line x1="291.5" y1="613.5" x2="291.5" y2="733.5" stroke="#444" stroke-width="1" stroke-linecap="square"/>
<line x1="292.5" y1="733.5" x2="292.5" y2="776.5" stroke="#888" stroke-width="1" stroke-linecap="square"/>
<line x1="292.5" y1="776.5" x2="433.5" y2="776.5" stroke="#9a9a9a" stroke-width="1" stroke-linecap="square"/>
<line x1="291.5" y1="646.5" x2="298.5" y2="646.5" stroke="#000" stroke-width="1" stroke-linecap="square"/>
<line x1="298.5" y1="641.5" x2="298.5" y2="651.5" stroke="#000" stroke-width="1" stroke-linecap="square"/>
<line x1="298.5" y1="641.5" x2="433.5" y2="641.5" stroke="#000" stroke-width="1" stroke-linecap="square"/>
<line x1="298.5" y1="651.5" x2="309.5" y2="651.5" stroke="#9a9a9a" stroke-width="1" stroke-linecap="square"/>
<line x1="359.5" y1="505.5" x2="359.5" y2="516.5" stroke="#000" stroke-width="1" stroke-linecap="square"/>
<line x1="359.5" y1="505.5" x2="425.5" y2="505.5" stroke="#9a9a9a" stroke-width="1" stroke-linecap="square"/>
<line x1="359.5" y1="516.5" x2="391.5" y2="516.5" stroke="#000" stroke-width="1" stroke-linecap="square"/>
<line x1="357.5" y1="511.5" x2="359.5" y2="511.5" stroke="#000" stroke-width="1" stroke-linecap="square"/>
<line x1="357.5" y1="511.5" x2="357.5" y2="520.5" stroke="#000" stroke-width="1" stroke-linecap="square"/>
<line x1="357.5" y1="520.5" x2="357.5" y2="532.5" stroke="#000" stroke-width="1.97" stroke-linecap="square"/>
<line x1="360.5" y1="527.5" x2="360.5" y2="536.5" stroke="#000" stroke-width="1" stroke-linecap="square"/>
<line x1="360.5" y1="527.5" x2="373.5" y2="527.5" stroke="#9a9a9a" stroke-width="1" stroke-linecap="square"/>
<line x1="360.5" y1="536.5" x2="379.5" y2="536.5" stroke="#000" stroke-width="1" stroke-linecap="square"/>
<line x1="357.5" y1="532.5" x2="360.5" y2="532.5" stroke="#000" stroke-width="1" stroke-linecap="square"/>
<line x1="343.5" y1="534.5" x2="357.5" y2="534.5" stroke="#000" stroke-width="1" stroke-linecap="square"/>
<line x1="356.5" y1="532.5" x2="356.5" y2="547.5" stroke="#9a9a9a" stroke-width="1" stroke-linecap="square"/>
<line x1="356.5" y1="547.5" x2="372.5" y2="547.5" stroke="#9a9a9a" stroke-width="1" stroke-linecap="square"/>
<line x1="343.5" y1="534.5" x2="343.5" y2="557.5" stroke="#000" stroke-width="1" stroke-linecap="square"/>
<line x1="343.5" y1="557.5" x2="351.5" y2="557.5" stroke="#333" stroke-width="1" stroke-linecap="square"/>
<line x1="338.5" y1="546.5" x2="343.5" y2="546.5" stroke="#000" stroke-width="1" stroke-linecap="square"/>
<line x1="338.5" y1="546.5" x2="338.5" y2="580.5" stroke="#444" stroke-width="1" stroke-linecap="square"/>
<line x1="333.5" y1="563.5" x2="338.5" y2="563.5" stroke="#000" stroke-width="1" stroke-linecap="square"/>
<line x1="338.5" y1="580.5" x2="341.5" y2="580.5" stroke="#555" stroke-width="1" stroke-linecap="square"/>
<line x1="341.5" y1="573.5" x2="341.5" y2="588.5" stroke="#9a9a9a" stroke-width="1" stroke-linecap="square"/>
<line x1="341.5" y1="588.5" x2="433.5" y2="588.5" stroke="#9a9a9a" stroke-width="1" stroke-linecap="square"/>
<line x1="341.5" y1="573.5" x2="342.5" y2="573.5" stroke="#000" stroke-width="1" stroke-linecap="square"/>
<line x1="342.5" y1="568.5" x2="342.5" y2="578.5" stroke="#000" stroke-width="1" stroke-linecap="square"/>
<line x1="342.5" y1="568.5" x2="387.5" y2="568.5" stroke="#9a9a9a" stroke-width="1" stroke-linecap="square"/>
<line x1="342.5" y1="578.5" x2="402.5" y2="578.5" stroke="#000" stroke-width="1" stroke-linecap="square"/>
<line x1="333.5" y1="598.5" x2="350.5" y2="598.5" stroke="#000" stroke-width="1" stroke-linecap="square"/>
<line x1="334.5" y1="662.5" x2="334.5" y2="672.5" stroke="#000" stroke-width="1" stroke-linecap="square"/>
<line x1="334.5" y1="662.5" x2="433.5" y2="662.5" stroke="#000" stroke-width="1" stroke-linecap="square"/>
<line x1="334.5" y1="672.5" x2="372.5" y2="672.5" stroke="#444" stroke-width="1" stroke-linecap="square"/>
<line x1="327.5" y1="667.5" x2="334.5" y2="667.5" stroke="#000" stroke-width="1" stroke-linecap="square"/>
<line x1="327.5" y1="667.5" x2="327.5" y2="682.5" stroke="#000" stroke-width="1" stroke-linecap="square"/>
<line x1="327.5" y1="682.5" x2="411.5" y2="682.5" stroke="#000" stroke-width="1.23" stroke-linecap="square"/>
<line x1="324.5" y1="674.5" x2="327.5" y2="674.5" stroke="#000" stroke-width="1" stroke-linecap="square"/>
<line x1="324.5" y1="674.5" x2="324.5" y2="684.5" stroke="#000" stroke-width="1" stroke-linecap="square"/>
<line x1="324.5" y1="684.5" x2="324.5" y2="693.5" stroke="#9a9a9a" stroke-width="1" stroke-linecap="square"/>
<line x1="324.5" y1="693.5" x2="375.5" y2="693.5" stroke="#9a9a9a" stroke-width="1" stroke-linecap="square"/>
<line x1="312.5" y1="683.5" x2="324.5" y2="683.5" stroke="#000" stroke-width="1" stroke-linecap="square"/>
<line x1="312.5" y1="683.5" x2="312.5" y2="703.5" stroke="#000" stroke-width="1" stroke-linecap="square"/>
<line x1="312.5" y1="703.5" x2="419.5" y2="703.5" stroke="#000" stroke-width="1.23" stroke-linecap="square"/>
<line x1="302.5" y1="693.5" x2="312.5" y2="693.5" stroke="#000" stroke-width="1" stroke-linecap="square"/>
<line x1="302.5" y1="693.5" x2="302.5" y2="703.5" stroke="#000" stroke-width="1" stroke-linecap="square"/>
<line x1="302.5" y1="703.5" x2="302.5" y2="713.5" stroke="#9a9a9a" stroke-width="1" stroke-linecap="square"/>
<line x1="302.5" y1="713.5" x2="326.5" y2="713.5" stroke="#9a9a9a" stroke-width="1" stroke-linecap="square"/>
<line x1="297.5" y1="703.5" x2="302.5" y2="703.5" stroke="#000" stroke-width="1" stroke-linecap="square"/>
<line x1="297.5" y1="703.5" x2="297.5" y2="724.5" stroke="#000" stroke-width="1" stroke-linecap="square"/>
<line x1="297.5" y1="724.5" x2="347.5" y2="724.5" stroke="#000" stroke-width="1" stroke-linecap="square"/>
<line x1="294.5" y1="713.5" x2="297.5" y2="713.5" stroke="#000" stroke-width="1" stroke-linecap="square"/>
<line x1="294.5" y1="713.5" x2="294.5" y2="750.5" stroke="#000" stroke-width="1" stroke-linecap="square"/>
<line x1="291.5" y1="733.5" x2="294.5" y2="733.5" stroke="#000" stroke-width="1" stroke-linecap="square"/>
<line x1="294.5" y1="750.5" x2="300.5" y2="750.5" stroke="#000" stroke-width="1" stroke-linecap="square"/>
<line x1="300.5" y1="739.5" x2="300.5" y2="760.5" stroke="#000" stroke-width="1" stroke-linecap="square"/>
<line x1="300.5" y1="739.5" x2="307.5" y2="739.5" stroke="#000" stroke-width="1" stroke-linecap="square"/>
<line x1="307.5" y1="735.5" x2="307.5" y2="745.5" stroke="#000" stroke-width="1" stroke-linecap="square"/>
<line x1="307.5" y1="735.5" x2="344.5" y2="735.5" stroke="#9a9a9a" stroke-width="1" stroke-linecap="square"/>
<line x1="307.5" y1="745.5" x2="433.5" y2="745.5" stroke="#000" stroke-width="1" stroke-linecap="square"/>
<line x1="300.5" y1="760.5" x2="313.5" y2="760.5" stroke="#000" stroke-width="1" stroke-linecap="square"/>
<line x1="313.5" y1="755.5" x2="313.5" y2="766.5" stroke="#000" stroke-width="1" stroke-linecap="square"/>
<line x1="313.5" y1="755.5" x2="342.5" y2="755.5" stroke="#9a9a9a" stroke-width="1" stroke-linecap="square"/>
<line x1="313.5" y1="766.5" x2="433.5" y2="766.5" stroke="#000" stroke-width="1" stroke-linecap="square"/>
<text x="404.2" y="495.2" font-size="6.15" fill="#000" text-anchor="end" textLength="9.59" lengthAdjust="spacingAndGlyphs" stroke="#000" stroke-width="0.14">100</text>
<text x="404.2" y="500.25" font-size="6.15" fill="#f00000" text-anchor="end" textLength="9.59" lengthAdjust="spacingAndGlyphs" stroke="#f00000" stroke-width="0.14">100</text>
<text x="424.8" y="505.2" font-size="6.15" fill="#000" text-anchor="end" textLength="9.59" lengthAdjust="spacingAndGlyphs" stroke="#000" stroke-width="0.14">100</text>
<text x="424.8" y="510.25" font-size="6.15" fill="#f00000" text-anchor="end" textLength="9.59" lengthAdjust="spacingAndGlyphs" stroke="#f00000" stroke-width="0.14">100</text>
<text x="390.8" y="516.2" font-size="6.15" fill="#000" text-anchor="end" textLength="6.39" lengthAdjust="spacingAndGlyphs" stroke="#000" stroke-width="0.14">70</text>
<text x="390.8" y="521.25" font-size="6.15" fill="#f59a9a" text-anchor="end" textLength="6.39" lengthAdjust="spacingAndGlyphs" stroke="#f59a9a" stroke-width="0.14">63</text>
<text x="372.5" y="527.2" font-size="6.15" fill="#8c8c8c" text-anchor="end" textLength="6.39" lengthAdjust="spacingAndGlyphs" stroke="#8c8c8c" stroke-width="0.14">57</text>
<text x="372.5" y="532.25" font-size="6.15" fill="#f59a9a" text-anchor="end" textLength="6.39" lengthAdjust="spacingAndGlyphs" stroke="#f59a9a" stroke-width="0.14">69</text>
<text x="378" y="536.2" font-size="6.15" fill="#000" text-anchor="end" textLength="6.39" lengthAdjust="spacingAndGlyphs" stroke="#000" stroke-width="0.14">93</text>
<text x="378" y="541.25" font-size="6.15" fill="#f00000" text-anchor="end" textLength="6.39" lengthAdjust="spacingAndGlyphs" stroke="#f00000" stroke-width="0.14">89</text>
<text x="371" y="547.2" font-size="6.15" fill="#8c8c8c" text-anchor="end" textLength="6.39" lengthAdjust="spacingAndGlyphs" stroke="#8c8c8c" stroke-width="0.14">34</text>
<text x="371" y="552.25" font-size="6.15" fill="#f59a9a" text-anchor="end" textLength="6.39" lengthAdjust="spacingAndGlyphs" stroke="#f59a9a" stroke-width="0.14">40</text>
<text x="356.5" y="533.2" font-size="6.15" fill="#8c8c8c" text-anchor="end" textLength="6.39" lengthAdjust="spacingAndGlyphs" stroke="#8c8c8c" stroke-width="0.14">44</text>
<text x="356.5" y="538.25" font-size="6.15" fill="#f59a9a" text-anchor="end" textLength="6.39" lengthAdjust="spacingAndGlyphs" stroke="#f59a9a" stroke-width="0.14">54</text>
<text x="344" y="545.2" font-size="6.15" fill="#8c8c8c" text-anchor="end" textLength="6.39" lengthAdjust="spacingAndGlyphs" stroke="#8c8c8c" stroke-width="0.14">43</text>
<text x="344" y="550.25" font-size="6.15" fill="#f59a9a" text-anchor="end" textLength="6.39" lengthAdjust="spacingAndGlyphs" stroke="#f59a9a" stroke-width="0.14">51</text>
<text x="350" y="557.2" font-size="6.15" fill="#8c8c8c" text-anchor="end" textLength="6.39" lengthAdjust="spacingAndGlyphs" stroke="#8c8c8c" stroke-width="0.14">59</text>
<text x="350" y="562.25" font-size="6.15" fill="#f59a9a" text-anchor="end" textLength="6.39" lengthAdjust="spacingAndGlyphs" stroke="#f59a9a" stroke-width="0.14">58</text>
<text x="333" y="538.2" font-size="6.15" fill="#000" text-anchor="end" textLength="9.59" lengthAdjust="spacingAndGlyphs" stroke="#000" stroke-width="0.14">100</text>
<text x="338.7" y="563.2" font-size="6.15" fill="#8c8c8c" text-anchor="end" textLength="6.39" lengthAdjust="spacingAndGlyphs" stroke="#8c8c8c" stroke-width="0.14">27</text>
<text x="338.7" y="568.25" font-size="6.15" fill="#f59a9a" text-anchor="end" textLength="6.39" lengthAdjust="spacingAndGlyphs" stroke="#f59a9a" stroke-width="0.14">35</text>
<text x="344" y="573.2" font-size="6.15" fill="#8c8c8c" text-anchor="end" textLength="6.39" lengthAdjust="spacingAndGlyphs" stroke="#8c8c8c" stroke-width="0.14">40</text>
<text x="344" y="578.25" font-size="6.15" fill="#f59a9a" text-anchor="end" textLength="6.39" lengthAdjust="spacingAndGlyphs" stroke="#f59a9a" stroke-width="0.14">52</text>
<text x="342" y="586.25" font-size="6.15" fill="#f59a9a" text-anchor="end" textLength="6.39" lengthAdjust="spacingAndGlyphs" stroke="#f59a9a" stroke-width="0.14">24</text>
<text x="386.2" y="568.2" font-size="6.15" fill="#000" text-anchor="end" textLength="9.59" lengthAdjust="spacingAndGlyphs" stroke="#000" stroke-width="0.14">100</text>
<text x="386.2" y="573.25" font-size="6.15" fill="#f00000" text-anchor="end" textLength="9.59" lengthAdjust="spacingAndGlyphs" stroke="#f00000" stroke-width="0.14">100</text>
<text x="401.5" y="578.2" font-size="6.15" fill="#000" text-anchor="end" textLength="9.59" lengthAdjust="spacingAndGlyphs" stroke="#000" stroke-width="0.14">100</text>
<text x="401.5" y="583.25" font-size="6.15" fill="#f00000" text-anchor="end" textLength="9.59" lengthAdjust="spacingAndGlyphs" stroke="#f00000" stroke-width="0.14">100</text>
<text x="349.3" y="598.2" font-size="6.15" fill="#000" text-anchor="end" textLength="6.39" lengthAdjust="spacingAndGlyphs" stroke="#000" stroke-width="0.14">90</text>
<text x="349.3" y="603.25" font-size="6.15" fill="#f00000" text-anchor="end" textLength="6.39" lengthAdjust="spacingAndGlyphs" stroke="#f00000" stroke-width="0.14">91</text>
<text x="303.7" y="573.2" font-size="6.15" fill="#000" text-anchor="end" textLength="6.39" lengthAdjust="spacingAndGlyphs" stroke="#000" stroke-width="0.14">99</text>
<text x="296.5" y="596.2" font-size="6.15" fill="#000" text-anchor="end" textLength="6.39" lengthAdjust="spacingAndGlyphs" stroke="#000" stroke-width="0.14">87</text>
<text x="294.8" y="613.2" font-size="6.15" fill="#000" text-anchor="end" textLength="9.59" lengthAdjust="spacingAndGlyphs" stroke="#000" stroke-width="0.14">100</text>
<text x="394.3" y="609.2" font-size="6.15" fill="#000" text-anchor="end" textLength="9.59" lengthAdjust="spacingAndGlyphs" stroke="#000" stroke-width="0.14">100</text>
<text x="347.4" y="619.2" font-size="6.15" fill="#000" text-anchor="end" textLength="9.59" lengthAdjust="spacingAndGlyphs" stroke="#000" stroke-width="0.14">100</text>
<text x="339" y="630.2" font-size="6.15" fill="#000" text-anchor="end" textLength="9.59" lengthAdjust="spacingAndGlyphs" stroke="#000" stroke-width="0.14">100</text>
<text x="291.7" y="630.2" font-size="6.15" fill="#8c8c8c" text-anchor="end" textLength="6.39" lengthAdjust="spacingAndGlyphs" stroke="#8c8c8c" stroke-width="0.14">40</text>
<text x="298" y="645.2" font-size="6.15" fill="#000" text-anchor="end" textLength="6.39" lengthAdjust="spacingAndGlyphs" stroke="#000" stroke-width="0.14">82</text>
<text x="308.6" y="651.2" font-size="6.15" fill="#000" text-anchor="end" textLength="6.39" lengthAdjust="spacingAndGlyphs" stroke="#000" stroke-width="0.14">93</text>
<text x="334.7" y="666.2" font-size="6.15" fill="#8c8c8c" text-anchor="end" textLength="6.39" lengthAdjust="spacingAndGlyphs" stroke="#8c8c8c" stroke-width="0.14">81</text>
<text x="334.7" y="671.25" font-size="6.15" fill="#f59a9a" text-anchor="end" textLength="6.39" lengthAdjust="spacingAndGlyphs" stroke="#f59a9a" stroke-width="0.14">55</text>
<text x="327.7" y="674.2" font-size="6.15" fill="#8c8c8c" text-anchor="end" textLength="6.39" lengthAdjust="spacingAndGlyphs" stroke="#8c8c8c" stroke-width="0.14">58</text>
<text x="327.7" y="679.25" font-size="6.15" fill="#f00000" text-anchor="end" textLength="6.39" lengthAdjust="spacingAndGlyphs" stroke="#f00000" stroke-width="0.14">91</text>
<text x="371.7" y="672.2" font-size="6.15" fill="#000" text-anchor="end" textLength="6.39" lengthAdjust="spacingAndGlyphs" stroke="#000" stroke-width="0.14">93</text>
<text x="371.7" y="677.25" font-size="6.15" fill="#f00000" text-anchor="end" textLength="6.39" lengthAdjust="spacingAndGlyphs" stroke="#f00000" stroke-width="0.14">87</text>
<text x="324.5" y="684.2" font-size="6.15" fill="#000" text-anchor="end" textLength="6.39" lengthAdjust="spacingAndGlyphs" stroke="#000" stroke-width="0.14">98</text>
<text x="324.5" y="689.25" font-size="6.15" fill="#f00000" text-anchor="end" textLength="6.39" lengthAdjust="spacingAndGlyphs" stroke="#f00000" stroke-width="0.14">96</text>
<text x="410" y="682.2" font-size="6.15" fill="#000" text-anchor="end" textLength="6.39" lengthAdjust="spacingAndGlyphs" stroke="#000" stroke-width="0.14">99</text>
<text x="410" y="687.25" font-size="6.15" fill="#f00000" text-anchor="end" textLength="9.59" lengthAdjust="spacingAndGlyphs" stroke="#f00000" stroke-width="0.14">100</text>
<text x="374.2" y="693.2" font-size="6.15" fill="#000" text-anchor="end" textLength="6.39" lengthAdjust="spacingAndGlyphs" stroke="#000" stroke-width="0.14">94</text>
<text x="374.2" y="698.25" font-size="6.15" fill="#f00000" text-anchor="end" textLength="6.39" lengthAdjust="spacingAndGlyphs" stroke="#f00000" stroke-width="0.14">97</text>
<text x="312.4" y="693.2" font-size="6.15" fill="#000" text-anchor="end" textLength="9.59" lengthAdjust="spacingAndGlyphs" stroke="#000" stroke-width="0.14">100</text>
<text x="312.4" y="698.25" font-size="6.15" fill="#f00000" text-anchor="end" textLength="6.39" lengthAdjust="spacingAndGlyphs" stroke="#f00000" stroke-width="0.14">99</text>
<text x="418" y="703.2" font-size="6.15" fill="#000" text-anchor="end" textLength="9.59" lengthAdjust="spacingAndGlyphs" stroke="#000" stroke-width="0.14">100</text>
<text x="418" y="708.25" font-size="6.15" fill="#f00000" text-anchor="end" textLength="9.59" lengthAdjust="spacingAndGlyphs" stroke="#f00000" stroke-width="0.14">100</text>
<text x="302.9" y="703.2" font-size="6.15" fill="#000" text-anchor="end" textLength="6.39" lengthAdjust="spacingAndGlyphs" stroke="#000" stroke-width="0.14">95</text>
<text x="302.9" y="708.25" font-size="6.15" fill="#f00000" text-anchor="end" textLength="6.39" lengthAdjust="spacingAndGlyphs" stroke="#f00000" stroke-width="0.14">92</text>
<text x="325.6" y="713.2" font-size="6.15" fill="#000" text-anchor="end" textLength="6.39" lengthAdjust="spacingAndGlyphs" stroke="#000" stroke-width="0.14">95</text>
<text x="325.6" y="718.25" font-size="6.15" fill="#f00000" text-anchor="end" textLength="6.39" lengthAdjust="spacingAndGlyphs" stroke="#f00000" stroke-width="0.14">89</text>
<text x="297" y="713.2" font-size="6.15" fill="#000" text-anchor="end" textLength="6.39" lengthAdjust="spacingAndGlyphs" stroke="#000" stroke-width="0.14">74</text>
<text x="297" y="718.25" font-size="6.15" fill="#f00000" text-anchor="end" textLength="6.39" lengthAdjust="spacingAndGlyphs" stroke="#f00000" stroke-width="0.14">80</text>
<text x="343.6" y="724.2" font-size="6.15" fill="#000" text-anchor="end" textLength="9.59" lengthAdjust="spacingAndGlyphs" stroke="#000" stroke-width="0.14">100</text>
<text x="343.6" y="729.25" font-size="6.15" fill="#f00000" text-anchor="end" textLength="6.39" lengthAdjust="spacingAndGlyphs" stroke="#f00000" stroke-width="0.14">99</text>
<text x="294.4" y="732.2" font-size="6.15" fill="#000" text-anchor="end" textLength="9.59" lengthAdjust="spacingAndGlyphs" stroke="#000" stroke-width="0.14">100</text>
<text x="307.6" y="739.2" font-size="6.15" fill="#000" text-anchor="end" textLength="6.39" lengthAdjust="spacingAndGlyphs" stroke="#000" stroke-width="0.14">88</text>
<text x="307.6" y="744.25" font-size="6.15" fill="#f00000" text-anchor="end" textLength="6.39" lengthAdjust="spacingAndGlyphs" stroke="#f00000" stroke-width="0.14">91</text>
<text x="343.2" y="735.2" font-size="6.15" fill="#000" text-anchor="end" textLength="9.59" lengthAdjust="spacingAndGlyphs" stroke="#000" stroke-width="0.14">100</text>
<text x="343.2" y="740.25" font-size="6.15" fill="#f00000" text-anchor="end" textLength="6.39" lengthAdjust="spacingAndGlyphs" stroke="#f00000" stroke-width="0.14">99</text>
<text x="300.6" y="750.2" font-size="6.15" fill="#000" text-anchor="end" textLength="6.39" lengthAdjust="spacingAndGlyphs" stroke="#000" stroke-width="0.14">91</text>
<text x="300.6" y="755.25" font-size="6.15" fill="#f00000" text-anchor="end" textLength="6.39" lengthAdjust="spacingAndGlyphs" stroke="#f00000" stroke-width="0.14">86</text>
<text x="313.5" y="760.2" font-size="6.15" fill="#444" text-anchor="end" textLength="6.39" lengthAdjust="spacingAndGlyphs" stroke="#444" stroke-width="0.14">96</text>
<text x="313.5" y="765.25" font-size="6.15" fill="#f00000" text-anchor="end" textLength="6.39" lengthAdjust="spacingAndGlyphs" stroke="#f00000" stroke-width="0.14">93</text>
<text x="341" y="755.2" font-size="6.15" fill="#000" text-anchor="end" textLength="9.59" lengthAdjust="spacingAndGlyphs" stroke="#000" stroke-width="0.14">100</text>
<text x="341" y="760.25" font-size="6.15" fill="#f00000" text-anchor="end" textLength="9.59" lengthAdjust="spacingAndGlyphs" stroke="#f00000" stroke-width="0.14">100</text>
<text x="440.6" y="498" font-size="7.65" fill="#000">Pneumoviridae</text>
<text x="440.6" y="508.8" font-size="7.65" fill="#000">Bornaviridae</text>
<text x="440.6" y="518.8" font-size="7.65" fill="#000">Artoviridae</text>
<text x="440.6" y="528.5" font-size="7.65" fill="#000">Nyamiviridae</text>
<text x="440.6" y="539.9" font-size="7.65" fill="#000">Xinmoviridae</text>
<text x="440.6" y="549.9" font-size="7.65" fill="#000">Mymonaviridae</text>
<text x="440.6" y="560.3" font-size="7.65" fill="#000">Rhabdoviridae</text>
<text x="440.6" y="570.3" font-size="7.65" fill="#000">Paramyxoviridae</text>
<text x="440.6" y="581.8" font-size="7.65" fill="#000">Filoviridae</text>
<text x="440.6" y="591.8" font-size="7.65" fill="#000">Sunviridae</text>
<text x="440.6" y="602" font-size="7.65" fill="#000">Chuviridae</text>
<text x="440.6" y="611.8" font-size="7.65" fill="#000">Ophioviridae</text>
<text x="440.6" y="623" font-size="7.65" fill="#000">Yueviridae</text>
<text x="440.6" y="633.3" font-size="7.65" fill="#000">Qinviridae</text>
<text x="440.6" y="643.8" font-size="7.65" fill="#000">Amnoonviridae</text>
<text x="440.6" y="653.6" font-size="7.65" fill="#000">Orthomyxoviridae</text>
<text x="440.6" y="664.6" font-size="7.65" fill="#000">Cruliviridae</text>
<text x="440.6" y="674.8" font-size="7.65" fill="#000">Peribunyaviridae</text>
<text x="440.6" y="685" font-size="7.65" fill="#000">Tospoviridae</text>
<text x="440.6" y="695.6" font-size="7.65" fill="#000">Fimoviridae</text>
<text x="440.6" y="706.2" font-size="7.65" fill="#000">Hantaviridae</text>
<text x="440.6" y="716.8" font-size="7.65" fill="#000">Phasmaviridae</text>
<text x="440.6" y="726.8" font-size="7.65" fill="#000">Phenuiviridae</text>
<text x="440.6" y="738.1" font-size="7.65" fill="#000">Arenaviridae</text>
<text x="440.6" y="747.2" font-size="7.65" fill="#000">Mypoviridae</text>
<text x="440.6" y="758.2" font-size="7.65" fill="#000">Nairoviridae</text>
<text x="440.6" y="768.2" font-size="7.65" fill="#000">Wupedeviridae</text>
<text x="440.6" y="779.9" font-size="7.65" fill="#000">Deltaviridae</text>
<line x1="501.6" y1="492" x2="509.8" y2="492" stroke="#555" stroke-width="0.9"/>
<line x1="501.6" y1="591.6" x2="509.8" y2="591.6" stroke="#555" stroke-width="0.9"/>
<line x1="505.7" y1="492" x2="505.7" y2="591.6" stroke="#555" stroke-width="0.9"/>
<text x="509.1" y="543.4" font-size="7.65" fill="#000">Mononegavirales</text>
<text x="510.5" y="601.1" font-size="7.65" fill="#000">Jingchuvirales</text>
<text x="510.5" y="611.7" font-size="7.65" fill="#000">Serpentovirales</text>
<text x="510.5" y="622.5" font-size="7.65" fill="#000">Goujianvirales</text>
<text x="510.5" y="632.8" font-size="7.65" fill="#000">Muvirales</text>
<line x1="501.6" y1="638.6" x2="509.8" y2="638.6" stroke="#555" stroke-width="0.9"/>
<line x1="501.6" y1="653.8" x2="509.8" y2="653.8" stroke="#555" stroke-width="0.9"/>
<line x1="505.7" y1="638.6" x2="505.7" y2="653.8" stroke="#555" stroke-width="0.9"/>
<text x="511" y="648.7" font-size="7.65" fill="#000">Articulavirales</text>
<line x1="501.6" y1="659.3" x2="509.8" y2="659.3" stroke="#555" stroke-width="0.9"/>
<line x1="501.6" y1="769.3" x2="509.8" y2="769.3" stroke="#555" stroke-width="0.9"/>
<line x1="505.7" y1="659.3" x2="505.7" y2="769.3" stroke="#555" stroke-width="0.9"/>
<text x="510" y="715.7" font-size="7.65" fill="#000">Bunyavirales</text>
<line x1="408.5" y1="813.5" x2="437.5" y2="813.5" stroke="#444" stroke-width="1.31" stroke-linecap="square"/>
<text x="423.2" y="827.7" font-size="12.5" fill="#000" text-anchor="middle">0.2</text>
</g>
</svg>
</body>
</html>
